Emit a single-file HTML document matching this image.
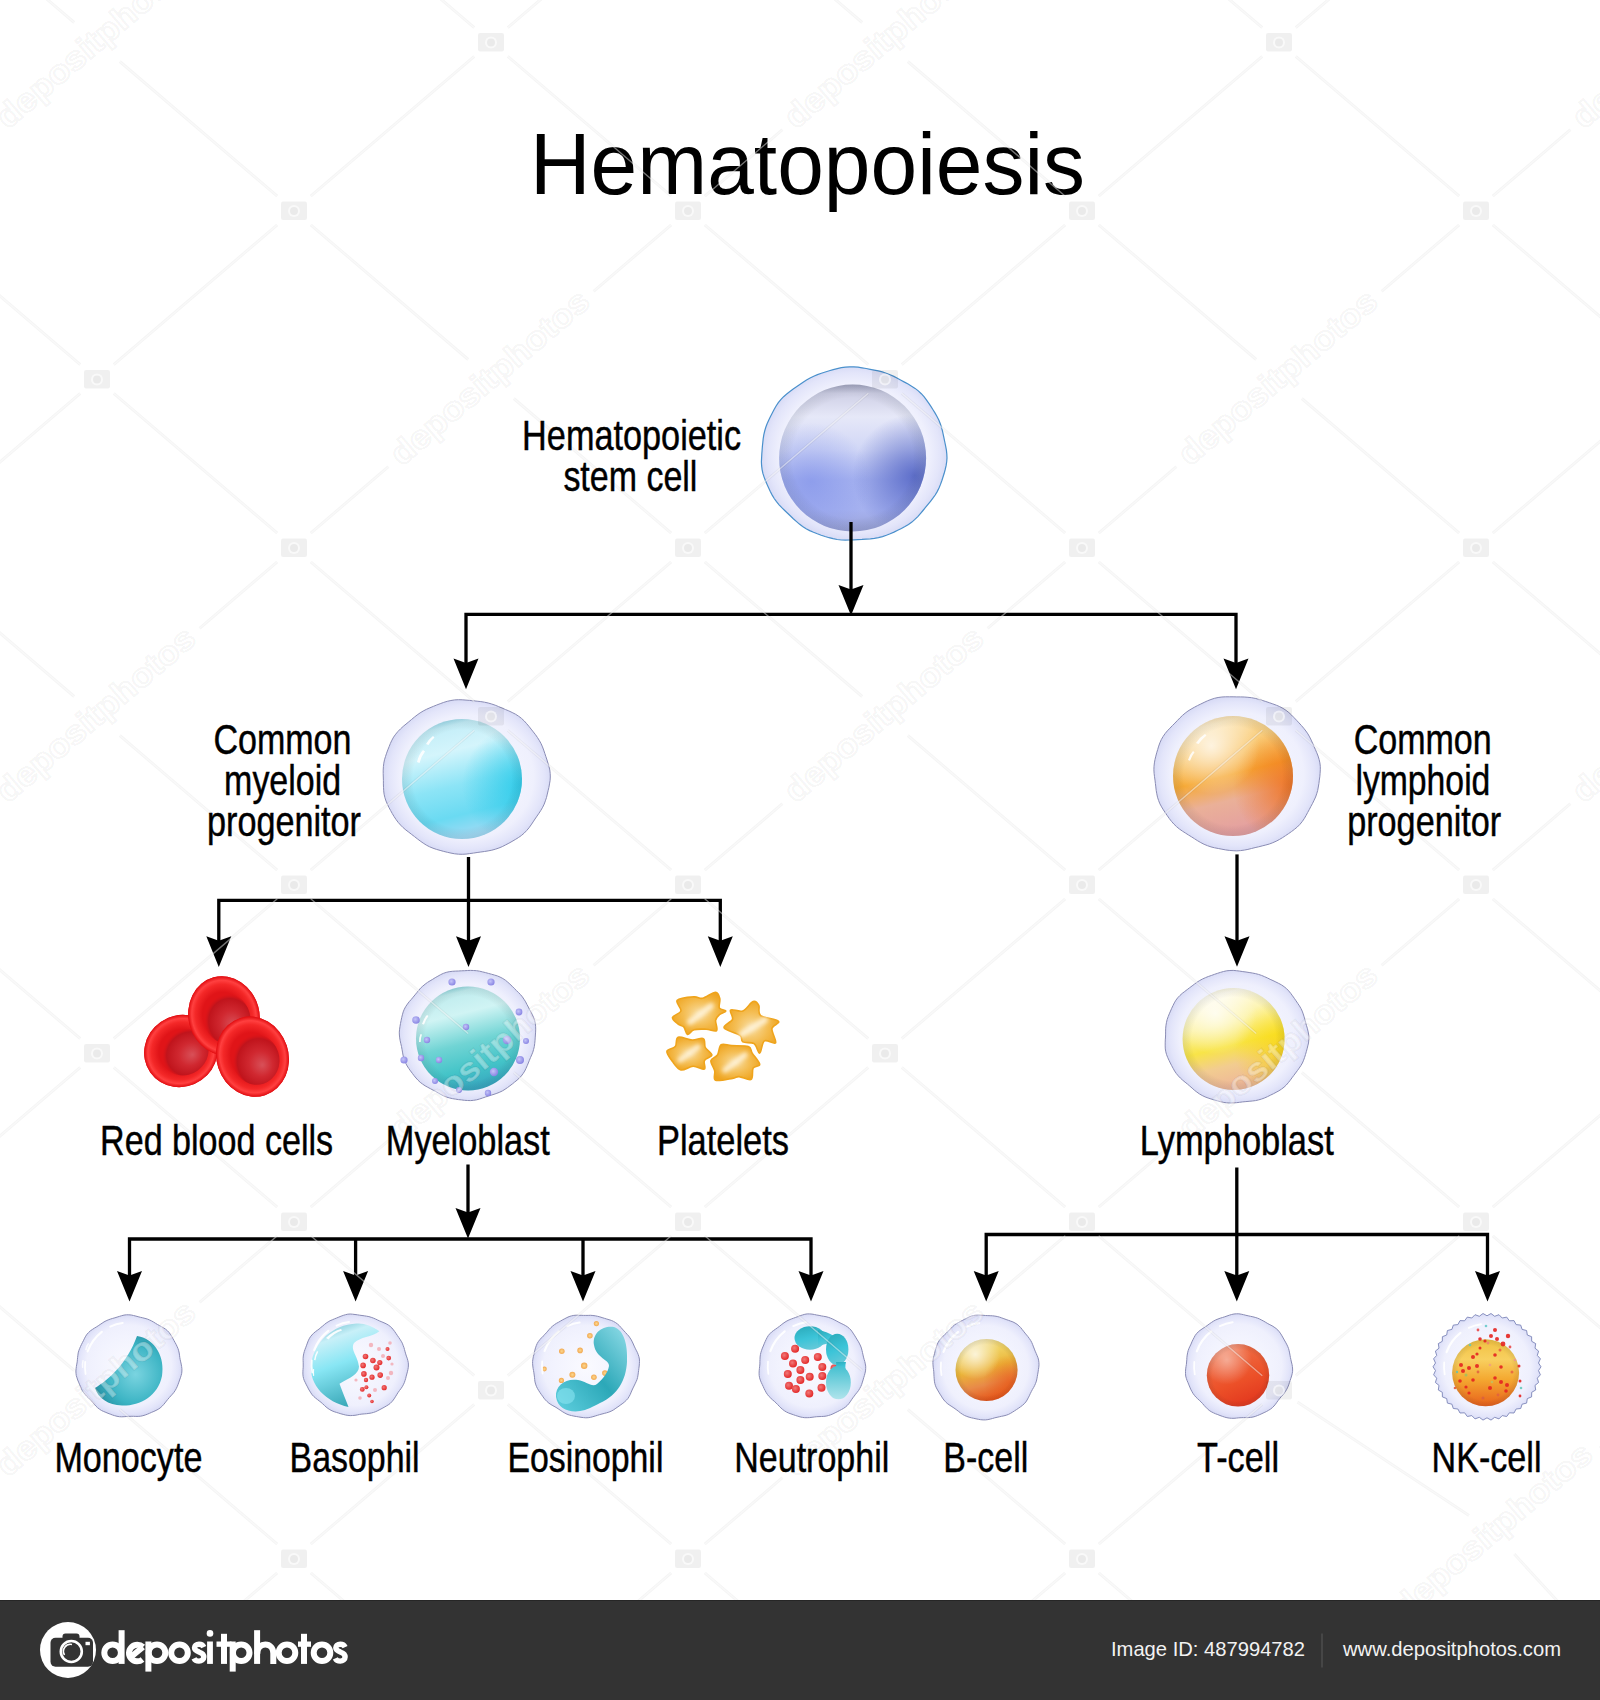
<!DOCTYPE html>
<html><head><meta charset="utf-8">
<style>
html,body{margin:0;padding:0;background:#fff;width:1600px;height:1700px;overflow:hidden}
svg text{font-family:"Liberation Sans",sans-serif}
</style></head><body>
<svg width="1600" height="1600" viewBox="0 0 1600 1600" style="position:absolute;left:0;top:0">

<defs>
  <radialGradient id="mem" cx="50%" cy="50%" r="50%">
    <stop offset="0" stop-color="#fafaff"/>
    <stop offset="0.6" stop-color="#f2f3fe"/>
    <stop offset="0.8" stop-color="#eff0fd"/>
    <stop offset="0.93" stop-color="#e3e5fa"/>
    <stop offset="1" stop-color="#d9dcf6"/>
  </radialGradient>
  <radialGradient id="rim" cx="50%" cy="50%" r="50%">
    <stop offset="0.82" stop-color="#000" stop-opacity="0"/>
    <stop offset="1" stop-color="#203040" stop-opacity="0.10"/>
  </radialGradient>
  <linearGradient id="nStem" x1="0" y1="0" x2="0" y2="1">
    <stop offset="0" stop-color="#a4a6c0"/>
    <stop offset="0.06" stop-color="#cfd0e6"/>
    <stop offset="0.22" stop-color="#e6e8f8"/>
    <stop offset="0.45" stop-color="#d0d6f6"/>
    <stop offset="0.65" stop-color="#a8b4f0"/>
    <stop offset="0.85" stop-color="#a6b2f0"/>
    <stop offset="1" stop-color="#9aa2d8"/>
  </linearGradient>
  <radialGradient id="stemR" cx="92%" cy="62%" r="42%">
    <stop offset="0" stop-color="#4a5cc0" stop-opacity="0.8"/>
    <stop offset="1" stop-color="#4a5cc0" stop-opacity="0"/>
  </radialGradient>
  <radialGradient id="stemL" cx="22%" cy="66%" r="40%">
    <stop offset="0" stop-color="#7a8ce8" stop-opacity="0.55"/>
    <stop offset="1" stop-color="#7a8ce8" stop-opacity="0"/>
  </radialGradient>
  <linearGradient id="nCyan" x1="0.2" y1="0" x2="0.45" y2="1">
    <stop offset="0" stop-color="#78cce0"/>
    <stop offset="0.1" stop-color="#c4eef8"/>
    <stop offset="0.3" stop-color="#d4f5fc"/>
    <stop offset="0.58" stop-color="#8ce4f6"/>
    <stop offset="0.82" stop-color="#6adaf2"/>
    <stop offset="1" stop-color="#a0daf4"/>
  </linearGradient>
  <radialGradient id="cyanR" cx="100%" cy="55%" r="50%">
    <stop offset="0" stop-color="#20c8e8" stop-opacity="0.8"/>
    <stop offset="1" stop-color="#20c8e8" stop-opacity="0"/>
  </radialGradient>
  <linearGradient id="nOrange" x1="0.1" y1="0" x2="0.35" y2="1">
    <stop offset="0" stop-color="#f6c878"/>
    <stop offset="0.12" stop-color="#fbe0a8"/>
    <stop offset="0.35" stop-color="#f9c870"/>
    <stop offset="0.55" stop-color="#f6aa38"/>
    <stop offset="0.75" stop-color="#eab098"/>
    <stop offset="1" stop-color="#e4a0a0"/>
  </linearGradient>
  <radialGradient id="orangeR" cx="100%" cy="58%" r="50%">
    <stop offset="0" stop-color="#f06a10" stop-opacity="0.85"/>
    <stop offset="1" stop-color="#f06a10" stop-opacity="0"/>
  </radialGradient>
  <radialGradient id="hiL" cx="32%" cy="25%" r="40%">
    <stop offset="0" stop-color="#ffffff" stop-opacity="0.75"/>
    <stop offset="1" stop-color="#ffffff" stop-opacity="0"/>
  </radialGradient>
  <linearGradient id="nYellow" x1="0.1" y1="0" x2="0.35" y2="1">
    <stop offset="0" stop-color="#f4eab0"/>
    <stop offset="0.12" stop-color="#fffbe8"/>
    <stop offset="0.4" stop-color="#fcf2a0"/>
    <stop offset="0.62" stop-color="#f8e448"/>
    <stop offset="0.8" stop-color="#f2cc90"/>
    <stop offset="1" stop-color="#eeb898"/>
  </linearGradient>
  <radialGradient id="yellowR" cx="100%" cy="60%" r="50%">
    <stop offset="0" stop-color="#fad800" stop-opacity="0.8"/>
    <stop offset="1" stop-color="#fad800" stop-opacity="0"/>
  </radialGradient>
  <linearGradient id="nTeal" x1="0.2" y1="0" x2="0.45" y2="1">
    <stop offset="0" stop-color="#60c4cc"/>
    <stop offset="0.1" stop-color="#c0ecee"/>
    <stop offset="0.3" stop-color="#d0f4f4"/>
    <stop offset="0.58" stop-color="#70d4d4"/>
    <stop offset="0.82" stop-color="#44c4c8"/>
    <stop offset="1" stop-color="#38a8c0"/>
  </linearGradient>
  <linearGradient id="nBcell" x1="0.25" y1="0" x2="0.5" y2="1">
    <stop offset="0" stop-color="#f0e0a0"/>
    <stop offset="0.25" stop-color="#f0d060"/>
    <stop offset="0.5" stop-color="#ebb438"/>
    <stop offset="0.75" stop-color="#e88a48"/>
    <stop offset="1" stop-color="#e65418"/>
  </linearGradient>
  <radialGradient id="bR" cx="90%" cy="70%" r="45%">
    <stop offset="0" stop-color="#e85010" stop-opacity="0.6"/>
    <stop offset="1" stop-color="#e85010" stop-opacity="0"/>
  </radialGradient>
  <linearGradient id="nTcell" x1="0" y1="0" x2="0.4" y2="1">
    <stop offset="0" stop-color="#f29a80"/>
    <stop offset="0.3" stop-color="#ee6840"/>
    <stop offset="0.7" stop-color="#ec5028"/>
    <stop offset="1" stop-color="#e43c20"/>
  </linearGradient>
  <linearGradient id="nNK" x1="0" y1="0" x2="0" y2="1">
    <stop offset="0" stop-color="#f0c040"/>
    <stop offset="0.3" stop-color="#f8d060"/>
    <stop offset="0.6" stop-color="#f4a830"/>
    <stop offset="1" stop-color="#e8601c"/>
  </linearGradient>
  <radialGradient id="mono" cx="60%" cy="55%" r="60%">
    <stop offset="0" stop-color="#7ad4e0"/>
    <stop offset="0.7" stop-color="#3cb4c4"/>
    <stop offset="1" stop-color="#2a96a8"/>
  </radialGradient>
  <linearGradient id="baso" x1="0.2" y1="0" x2="0.5" y2="1">
    <stop offset="0" stop-color="#70c0d0"/>
    <stop offset="0.2" stop-color="#c8f0f8"/>
    <stop offset="0.5" stop-color="#88e6f4"/>
    <stop offset="1" stop-color="#3aa8b8"/>
  </linearGradient>
  <linearGradient id="eos" x1="0" y1="1" x2="1" y2="0">
    <stop offset="0" stop-color="#60d0e0"/>
    <stop offset="0.5" stop-color="#2ca8b8"/>
    <stop offset="1" stop-color="#90dce8"/>
  </linearGradient>
  <linearGradient id="neut" x1="0" y1="0" x2="0.3" y2="1">
    <stop offset="0" stop-color="#2aa8b8"/>
    <stop offset="0.6" stop-color="#3cc4d8"/>
    <stop offset="1" stop-color="#60c8d8"/>
  </linearGradient>
  <linearGradient id="neut2" x1="0" y1="0" x2="0" y2="1">
    <stop offset="0" stop-color="#44c0d0"/>
    <stop offset="1" stop-color="#b0e4ec"/>
  </linearGradient>
  <radialGradient id="rbc" cx="50%" cy="50%" r="50%">
    <stop offset="0.6" stop-color="#e01418"/>
    <stop offset="0.8" stop-color="#f42828"/>
    <stop offset="0.9" stop-color="#ff4040"/>
    <stop offset="1" stop-color="#e00c10"/>
  </radialGradient>
  <radialGradient id="rbcIn" cx="55%" cy="58%" r="55%" fx="60%" fy="65%">
    <stop offset="0" stop-color="#d85058"/>
    <stop offset="0.45" stop-color="#d02830"/>
    <stop offset="0.85" stop-color="#c0141c"/>
    <stop offset="1" stop-color="#d81418" stop-opacity="0"/>
  </radialGradient>
  <radialGradient id="plt" cx="50%" cy="50%" r="55%">
    <stop offset="0" stop-color="#f8dca0"/>
    <stop offset="0.55" stop-color="#f4bc50"/>
    <stop offset="1" stop-color="#eea420"/>
  </radialGradient>
  <radialGradient id="rdot" cx="40%" cy="40%" r="60%">
    <stop offset="0" stop-color="#f07878"/>
    <stop offset="1" stop-color="#e42a2a"/>
  </radialGradient>
  <radialGradient id="pdot" cx="40%" cy="40%" r="60%">
    <stop offset="0" stop-color="#c4c4f8"/>
    <stop offset="1" stop-color="#8a86e4"/>
  </radialGradient>
  <radialGradient id="odot" cx="50%" cy="50%" r="50%">
    <stop offset="0" stop-color="#fbd890"/>
    <stop offset="1" stop-color="#f2a850"/>
  </radialGradient>
  <filter id="blur2" x="-50%" y="-50%" width="200%" height="200%"><feGaussianBlur stdDeviation="2.2"/></filter>
  <filter id="blur1" x="-50%" y="-50%" width="200%" height="200%"><feGaussianBlur stdDeviation="1.2"/></filter>
  <path id="ah" d="M0 1.6 L-12.5 -29 L0 -24.5 L12.5 -29 Z" fill="#000"/>
</defs>

<text x="807.5" y="193.5" font-size="88" text-anchor="middle" textLength="555" lengthAdjust="spacingAndGlyphs">Hematopoiesis</text>
<g stroke="#000" stroke-width="3.3" fill="none"><path d="M466 670 V614.4 H1236 V670"/><path d="M468.5 857 V950 M218.8 950 V900.3 H720.3 V950"/><path d="M1237 854.4 V950"/><path d="M468 1164.5 V1225 M129.5 1285 V1239 H811 V1285 M355.6 1239 V1285 M583 1239 V1285"/><path d="M1236.8 1167.5 V1285 M986.2 1285 V1234.5 H1487.5 V1285"/></g>
<use href="#ah" x="466" y="687.6"/>
<use href="#ah" x="1236" y="687.6"/>
<use href="#ah" x="218.8" y="965.3"/>
<use href="#ah" x="468.5" y="965.3"/>
<use href="#ah" x="720.3" y="965.3"/>
<use href="#ah" x="1237" y="965.2"/>
<use href="#ah" x="468" y="1237"/>
<use href="#ah" x="129.5" y="1300"/>
<use href="#ah" x="355.6" y="1300"/>
<use href="#ah" x="583" y="1300"/>
<use href="#ah" x="811" y="1300"/>
<use href="#ah" x="986.2" y="1300"/>
<use href="#ah" x="1236.8" y="1300"/>
<use href="#ah" x="1487.5" y="1300"/>
<path d="M946.8 454.0 L947.0 457.9 L946.7 461.8 L946.1 465.7 L945.2 469.5 L944.2 473.3 L943.0 477.0 L941.8 480.7 L940.5 484.4 L939.0 488.0 L937.2 491.6 L935.2 495.0 L932.9 498.2 L930.5 501.3 L928.0 504.4 L925.5 507.4 L923.0 510.5 L920.4 513.6 L917.8 516.6 L914.9 519.4 L911.9 522.1 L908.5 524.5 L905.0 526.6 L901.4 528.5 L897.7 530.3 L894.0 532.1 L890.2 533.7 L886.4 535.2 L882.5 536.6 L878.5 537.6 L874.4 538.3 L870.3 538.8 L866.1 539.1 L862.0 539.4 L857.9 539.6 L853.8 539.8 L849.7 540.0 L845.5 540.1 L841.3 540.0 L837.2 539.5 L833.1 538.7 L829.1 537.7 L825.1 536.5 L821.2 535.2 L817.3 533.8 L813.5 532.3 L809.7 530.6 L806.1 528.7 L802.6 526.5 L799.4 524.1 L796.3 521.4 L793.3 518.7 L790.5 516.0 L787.6 513.2 L784.7 510.5 L781.8 507.7 L779.1 504.8 L776.5 501.7 L774.2 498.5 L772.2 495.1 L770.3 491.6 L768.7 488.0 L767.1 484.4 L765.5 480.8 L764.1 477.1 L762.9 473.4 L762.1 469.6 L761.6 465.7 L761.4 461.8 L761.6 457.9 L761.8 454.0 L762.1 450.2 L762.4 446.3 L762.8 442.5 L763.2 438.6 L763.8 434.8 L764.7 431.0 L765.8 427.3 L767.2 423.6 L768.8 420.0 L770.5 416.5 L772.3 413.0 L774.1 409.5 L776.1 406.0 L778.3 402.7 L780.8 399.6 L783.6 396.7 L786.7 394.0 L789.9 391.5 L793.2 389.1 L796.5 386.8 L799.8 384.5 L803.1 382.2 L806.5 380.0 L810.1 378.0 L813.7 376.2 L817.5 374.6 L821.4 373.3 L825.3 372.0 L829.3 370.8 L833.2 369.7 L837.2 368.6 L841.3 367.7 L845.4 367.1 L849.6 366.8 L853.8 366.8 L858.0 367.2 L862.1 367.8 L866.2 368.5 L870.2 369.3 L874.3 370.1 L878.3 370.9 L882.3 371.9 L886.2 373.2 L890.1 374.7 L893.8 376.4 L897.4 378.3 L901.0 380.2 L904.5 382.1 L908.1 384.1 L911.6 386.2 L915.1 388.4 L918.3 390.9 L921.3 393.7 L924.0 396.7 L926.4 399.8 L928.7 403.1 L930.9 406.4 L933.0 409.7 L935.1 413.1 L937.0 416.5 L938.8 420.0 L940.3 423.7 L941.5 427.4 L942.5 431.1 L943.3 434.9 L944.1 438.7 L944.9 442.5 L945.7 446.3 L946.4 450.1 Z" fill="url(#mem)" stroke="#4a90cc" stroke-width="1.2"/>
<circle cx="852.6" cy="458" r="73.5" fill="url(#nStem)"/>
<circle cx="852.6" cy="458" r="73.5" fill="url(#stemL)"/>
<circle cx="852.6" cy="458" r="73.5" fill="url(#stemR)"/>
<circle cx="852.6" cy="458" r="73.5" fill="url(#rim)"/>
<path d="M851 522 V600" stroke="#000" stroke-width="3.3"/>
<use href="#ah" x="851" y="614"/>
<path d="M550.3 777.0 L550.1 780.5 L549.5 783.9 L548.9 787.4 L548.1 790.7 L547.3 794.1 L546.5 797.5 L545.4 800.8 L544.2 804.1 L542.7 807.2 L540.9 810.3 L539.0 813.2 L537.0 816.1 L535.0 819.0 L533.1 821.9 L531.1 824.9 L529.0 827.8 L526.7 830.5 L524.2 833.1 L521.4 835.5 L518.4 837.6 L515.3 839.5 L512.1 841.4 L508.9 843.2 L505.6 844.9 L502.3 846.6 L498.9 848.0 L495.4 849.2 L491.8 850.2 L488.1 850.9 L484.4 851.5 L480.8 852.0 L477.1 852.5 L473.4 853.1 L469.7 853.6 L466.0 854.1 L462.2 854.3 L458.5 854.2 L454.7 853.8 L451.0 853.1 L447.4 852.3 L443.7 851.4 L440.1 850.4 L436.5 849.4 L433.0 848.2 L429.6 846.8 L426.3 845.1 L423.2 843.1 L420.2 841.0 L417.3 838.8 L414.5 836.6 L411.6 834.4 L408.8 832.2 L405.9 830.0 L403.1 827.6 L400.6 825.1 L398.2 822.4 L396.1 819.6 L394.1 816.6 L392.3 813.6 L390.6 810.5 L388.9 807.4 L387.4 804.2 L386.0 801.0 L384.9 797.6 L384.1 794.2 L383.7 790.8 L383.5 787.3 L383.4 783.9 L383.4 780.4 L383.3 777.0 L383.2 773.6 L383.2 770.1 L383.4 766.7 L383.8 763.2 L384.5 759.8 L385.5 756.5 L386.6 753.2 L387.8 749.9 L389.1 746.7 L390.4 743.4 L391.9 740.2 L393.6 737.1 L395.7 734.2 L398.0 731.4 L400.5 728.9 L403.2 726.4 L406.0 724.1 L408.8 721.8 L411.5 719.5 L414.3 717.2 L417.1 715.0 L420.1 712.9 L423.2 711.0 L426.5 709.3 L429.9 707.8 L433.3 706.4 L436.7 705.0 L440.2 703.7 L443.7 702.4 L447.3 701.3 L450.9 700.5 L454.7 699.9 L458.5 699.7 L462.2 699.8 L466.0 700.1 L469.7 700.4 L473.4 700.8 L477.1 701.2 L480.8 701.6 L484.5 702.2 L488.2 703.0 L491.7 704.0 L495.2 705.2 L498.6 706.6 L502.0 708.0 L505.4 709.5 L508.8 710.9 L512.2 712.5 L515.5 714.2 L518.6 716.2 L521.5 718.4 L524.2 720.9 L526.6 723.6 L528.9 726.3 L531.1 729.1 L533.3 731.9 L535.5 734.7 L537.5 737.6 L539.4 740.6 L541.1 743.7 L542.5 746.9 L543.7 750.1 L544.8 753.4 L545.9 756.7 L547.0 760.0 L548.0 763.3 L549.0 766.6 L549.8 770.0 L550.2 773.5 Z" fill="url(#mem)" stroke="#8a8cb4" stroke-width="1.0"/>
<circle cx="462" cy="779" r="60" fill="url(#nCyan)"/><circle cx="462" cy="779" r="60" fill="url(#cyanR)"/><circle cx="462" cy="779" r="60" fill="url(#rim)"/>
<g fill="#fff" opacity="0.9"><path d="M417 762 q2 -8 6 -12 l2 1.5 q-4 5 -5.5 11.5z"/><path d="M426 744 q3 -5 7 -8 l1.5 1.5 q-3.5 3 -6 7.5z"/></g>
<path d="M1320.1 773.3 L1319.8 776.8 L1319.3 780.2 L1318.9 783.6 L1318.3 787.0 L1317.7 790.4 L1316.7 793.8 L1315.6 797.0 L1314.1 800.2 L1312.6 803.3 L1310.9 806.4 L1309.3 809.5 L1307.6 812.6 L1306.0 815.6 L1304.2 818.7 L1302.2 821.6 L1299.9 824.4 L1297.3 827.0 L1294.5 829.3 L1291.6 831.5 L1288.6 833.6 L1285.6 835.6 L1282.6 837.6 L1279.4 839.5 L1276.2 841.2 L1272.8 842.7 L1269.4 844.0 L1265.8 845.0 L1262.2 845.9 L1258.7 846.8 L1255.1 847.6 L1251.5 848.5 L1247.9 849.4 L1244.3 850.1 L1240.5 850.6 L1236.8 850.9 L1233.1 850.7 L1229.3 850.4 L1225.6 849.9 L1221.9 849.2 L1218.3 848.5 L1214.6 847.8 L1211.0 846.9 L1207.5 845.7 L1204.1 844.3 L1200.8 842.6 L1197.7 840.8 L1194.6 838.8 L1191.6 836.9 L1188.5 835.0 L1185.4 833.0 L1182.4 831.1 L1179.4 829.0 L1176.6 826.7 L1174.0 824.2 L1171.6 821.5 L1169.4 818.7 L1167.4 815.8 L1165.4 812.9 L1163.4 809.9 L1161.6 806.9 L1159.9 803.8 L1158.6 800.5 L1157.5 797.2 L1156.8 793.8 L1156.2 790.4 L1155.8 786.9 L1155.4 783.5 L1155.0 780.1 L1154.5 776.7 L1154.1 773.3 L1153.9 769.8 L1154.0 766.4 L1154.4 762.9 L1155.0 759.5 L1155.8 756.2 L1156.7 752.8 L1157.7 749.5 L1158.7 746.1 L1159.9 742.8 L1161.3 739.6 L1163.1 736.5 L1165.1 733.6 L1167.4 730.8 L1169.9 728.2 L1172.4 725.6 L1174.9 723.1 L1177.3 720.6 L1179.8 718.0 L1182.4 715.5 L1185.1 713.2 L1188.0 711.0 L1191.1 709.1 L1194.3 707.3 L1197.5 705.6 L1200.8 704.0 L1204.1 702.4 L1207.5 700.8 L1210.9 699.5 L1214.5 698.3 L1218.1 697.5 L1221.9 697.0 L1225.6 696.8 L1229.4 696.8 L1233.1 696.8 L1236.8 696.9 L1240.5 696.9 L1244.2 697.0 L1247.9 697.3 L1251.6 697.7 L1255.2 698.4 L1258.8 699.3 L1262.3 700.4 L1265.8 701.5 L1269.3 702.7 L1272.8 703.9 L1276.3 705.2 L1279.7 706.6 L1283.0 708.4 L1286.1 710.4 L1288.9 712.6 L1291.6 715.1 L1294.1 717.7 L1296.6 720.3 L1299.0 722.9 L1301.4 725.5 L1303.7 728.2 L1305.9 731.0 L1307.9 733.9 L1309.6 736.9 L1311.2 740.1 L1312.6 743.2 L1314.0 746.4 L1315.4 749.6 L1316.8 752.8 L1318.1 756.1 L1319.1 759.4 L1319.9 762.9 L1320.3 766.3 L1320.3 769.8 Z" fill="url(#mem)" stroke="#8a8cb4" stroke-width="1.0"/>
<circle cx="1233" cy="776" r="60" fill="url(#nOrange)"/><circle cx="1233" cy="776" r="60" fill="url(#orangeR)"/><circle cx="1233" cy="776" r="60" fill="url(#hiL)"/><circle cx="1233" cy="776" r="60" fill="url(#rim)"/>
<g fill="#fff" opacity="0.85"><path d="M1188 760 q2 -6 5 -9 l1.5 1.2 q-3 4 -4.5 8.5z"/><path d="M1196 743 q4 -6 9 -9 l1.5 1.5 q-4.5 3.5 -8 8.5z"/></g>
<path d="M1308.9 1037.0 L1308.8 1040.0 L1308.5 1043.0 L1307.8 1045.9 L1307.1 1048.8 L1306.3 1051.7 L1305.5 1054.5 L1304.6 1057.4 L1303.6 1060.2 L1302.4 1063.0 L1300.9 1065.6 L1299.2 1068.1 L1297.4 1070.6 L1295.6 1073.0 L1293.8 1075.4 L1292.0 1077.8 L1290.2 1080.3 L1288.3 1082.7 L1286.3 1085.0 L1284.0 1087.2 L1281.5 1089.1 L1278.9 1090.8 L1276.1 1092.3 L1273.3 1093.8 L1270.4 1095.2 L1267.6 1096.6 L1264.7 1097.9 L1261.7 1099.0 L1258.6 1099.9 L1255.5 1100.6 L1252.3 1101.0 L1249.1 1101.3 L1245.9 1101.6 L1242.7 1101.9 L1239.6 1102.3 L1236.4 1102.7 L1233.2 1102.9 L1229.9 1103.0 L1226.7 1102.8 L1223.5 1102.4 L1220.4 1101.7 L1217.3 1100.8 L1214.2 1099.9 L1211.1 1099.0 L1208.1 1098.0 L1205.1 1096.9 L1202.2 1095.5 L1199.4 1093.9 L1196.9 1092.1 L1194.4 1090.2 L1192.1 1088.1 L1189.8 1086.1 L1187.5 1084.1 L1185.1 1082.2 L1182.7 1080.2 L1180.4 1078.1 L1178.3 1075.9 L1176.3 1073.5 L1174.6 1071.0 L1173.1 1068.3 L1171.7 1065.7 L1170.3 1063.0 L1169.0 1060.3 L1167.7 1057.5 L1166.6 1054.7 L1165.8 1051.8 L1165.3 1048.9 L1165.2 1045.9 L1165.2 1042.9 L1165.3 1039.9 L1165.5 1037.0 L1165.6 1034.1 L1165.6 1031.1 L1165.7 1028.2 L1166.0 1025.2 L1166.5 1022.3 L1167.2 1019.4 L1168.2 1016.6 L1169.3 1013.8 L1170.5 1011.1 L1171.7 1008.3 L1173.0 1005.6 L1174.3 1002.9 L1175.9 1000.2 L1177.7 997.8 L1179.9 995.5 L1182.2 993.4 L1184.7 991.5 L1187.2 989.6 L1189.7 987.7 L1192.1 985.9 L1194.6 984.0 L1197.1 982.2 L1199.7 980.5 L1202.5 979.0 L1205.4 977.7 L1208.3 976.5 L1211.3 975.5 L1214.3 974.4 L1217.3 973.4 L1220.4 972.4 L1223.5 971.5 L1226.7 970.8 L1229.9 970.5 L1233.2 970.4 L1236.4 970.7 L1239.6 971.1 L1242.8 971.6 L1246.0 972.0 L1249.1 972.5 L1252.3 973.0 L1255.4 973.6 L1258.5 974.4 L1261.5 975.4 L1264.4 976.6 L1267.3 977.9 L1270.1 979.3 L1273.0 980.6 L1275.9 982.0 L1278.7 983.4 L1281.5 984.9 L1284.1 986.7 L1286.6 988.7 L1288.7 990.9 L1290.7 993.3 L1292.5 995.8 L1294.3 998.3 L1296.0 1000.8 L1297.7 1003.3 L1299.4 1005.8 L1300.9 1008.4 L1302.2 1011.1 L1303.2 1013.9 L1304.1 1016.8 L1304.9 1019.6 L1305.6 1022.5 L1306.4 1025.3 L1307.3 1028.2 L1308.0 1031.1 L1308.6 1034.0 Z" fill="url(#mem)" stroke="#8a8cb4" stroke-width="1.0"/>
<circle cx="1233.6" cy="1039" r="51" fill="url(#nYellow)"/><circle cx="1233.6" cy="1039" r="51" fill="url(#yellowR)"/><circle cx="1233.6" cy="1039" r="51" fill="url(#hiL)"/><circle cx="1233.6" cy="1039" r="51" fill="url(#rim)"/>
<path d="M535.4 1035.0 L535.2 1037.9 L535.0 1040.8 L534.7 1043.7 L534.3 1046.6 L533.6 1049.4 L532.8 1052.2 L531.7 1054.9 L530.5 1057.6 L529.4 1060.3 L528.3 1063.0 L527.2 1065.7 L526.0 1068.4 L524.7 1071.1 L523.1 1073.6 L521.3 1076.0 L519.2 1078.2 L517.0 1080.2 L514.6 1082.1 L512.3 1084.0 L509.9 1085.8 L507.5 1087.6 L505.0 1089.3 L502.4 1090.9 L499.7 1092.2 L496.9 1093.3 L494.0 1094.3 L491.1 1095.2 L488.3 1096.1 L485.4 1097.0 L482.6 1098.0 L479.6 1099.0 L476.7 1099.8 L473.7 1100.3 L470.6 1100.6 L467.5 1100.5 L464.4 1100.3 L461.4 1099.9 L458.4 1099.6 L455.3 1099.1 L452.3 1098.6 L449.3 1097.9 L446.4 1097.0 L443.6 1095.9 L440.9 1094.5 L438.3 1093.0 L435.7 1091.5 L433.1 1090.1 L430.4 1088.7 L427.8 1087.3 L425.1 1085.8 L422.6 1084.1 L420.2 1082.3 L418.0 1080.2 L416.0 1078.0 L414.1 1075.7 L412.3 1073.3 L410.5 1070.9 L408.8 1068.5 L407.2 1066.0 L405.8 1063.4 L404.6 1060.7 L403.7 1057.9 L403.0 1055.0 L402.5 1052.1 L402.0 1049.3 L401.5 1046.5 L400.8 1043.6 L400.2 1040.8 L399.7 1037.9 L399.4 1035.0 L399.3 1032.1 L399.6 1029.2 L400.0 1026.3 L400.5 1023.4 L401.1 1020.5 L401.7 1017.6 L402.4 1014.8 L403.2 1011.9 L404.3 1009.2 L405.7 1006.6 L407.4 1004.1 L409.2 1001.7 L411.2 999.5 L413.1 997.2 L415.0 994.9 L416.8 992.7 L418.7 990.4 L420.6 988.1 L422.8 986.1 L425.1 984.2 L427.5 982.4 L430.1 980.8 L432.7 979.3 L435.2 977.7 L437.9 976.2 L440.5 974.7 L443.3 973.4 L446.2 972.4 L449.2 971.7 L452.3 971.3 L455.4 971.1 L458.4 971.0 L461.5 970.8 L464.5 970.7 L467.5 970.5 L470.5 970.4 L473.6 970.5 L476.6 970.7 L479.6 971.2 L482.6 971.9 L485.5 972.6 L488.4 973.4 L491.4 974.2 L494.3 975.0 L497.3 975.9 L500.1 977.1 L502.8 978.5 L505.4 980.2 L507.7 982.1 L509.9 984.1 L512.1 986.2 L514.2 988.3 L516.3 990.4 L518.4 992.5 L520.5 994.6 L522.4 996.9 L524.0 999.3 L525.6 1001.8 L526.9 1004.4 L528.3 1007.0 L529.6 1009.6 L531.0 1012.2 L532.4 1014.8 L533.6 1017.6 L534.6 1020.4 L535.3 1023.2 L535.6 1026.2 L535.7 1029.1 L535.6 1032.1 Z" fill="url(#mem)" stroke="#8a8cb4" stroke-width="1.0"/>
<circle cx="468" cy="1038.5" r="52" fill="url(#nTeal)"/><circle cx="468" cy="1038.5" r="52" fill="url(#rim)"/>
<g fill="#fff" opacity="0.9"><path d="M422 1024 q2 -6 5 -9 l1.5 1 q-3 4 -4.5 8.5z"/><path d="M419 1042 q0 -5 1.5 -8 l1.5 0.5 q-1.3 3.5 -1.3 7.5z"/></g>
<circle cx="452" cy="982" r="3.6" fill="url(#pdot)"/>
<circle cx="491" cy="982" r="3.6" fill="url(#pdot)"/>
<circle cx="416" cy="1020" r="3.8" fill="url(#pdot)"/>
<circle cx="404" cy="1060" r="3.6" fill="url(#pdot)"/>
<circle cx="427" cy="1040" r="3.2" fill="url(#pdot)"/>
<circle cx="421" cy="1058" r="3.2" fill="url(#pdot)"/>
<circle cx="439" cy="1060" r="3.2" fill="url(#pdot)"/>
<circle cx="466" cy="1027" r="3.2" fill="url(#pdot)"/>
<circle cx="507" cy="1040" r="4.2" fill="url(#pdot)"/>
<circle cx="519" cy="1012" r="3.4" fill="url(#pdot)"/>
<circle cx="520" cy="1060" r="4.0" fill="url(#pdot)"/>
<circle cx="494" cy="1072" r="4.2" fill="url(#pdot)"/>
<circle cx="435" cy="1081" r="3.0" fill="url(#pdot)"/>
<circle cx="459" cy="1090" r="3.0" fill="url(#pdot)"/>
<circle cx="488" cy="1093" r="3.2" fill="url(#pdot)"/>
<circle cx="526" cy="1041" r="3.0" fill="url(#pdot)"/>
<g transform="rotate(-35 181 1051)"><ellipse cx="181" cy="1051" rx="37.5" ry="35.5" fill="#e81418"/><ellipse cx="181" cy="1051" rx="37.5" ry="35.5" fill="url(#rbc)"/><ellipse cx="183.25" cy="1053.84" rx="24.75" ry="22.72" fill="url(#rbcIn)"/></g>
<g transform="rotate(-15 224 1016)"><ellipse cx="224" cy="1016" rx="35.5" ry="40" fill="#e81418"/><ellipse cx="224" cy="1016" rx="35.5" ry="40" fill="url(#rbc)"/><ellipse cx="226.13" cy="1019.2" rx="23.43" ry="25.6" fill="url(#rbcIn)"/></g>
<g transform="rotate(-18 252.5 1056.7)"><ellipse cx="252.5" cy="1056.7" rx="36" ry="40.5" fill="#e81418"/><ellipse cx="252.5" cy="1056.7" rx="36" ry="40.5" fill="url(#rbc)"/><ellipse cx="254.66" cy="1059.94" rx="23.76" ry="25.92" fill="url(#rbcIn)"/></g>
<path d="M677.2 1000.2 C679.4 997.9 689.9 997.2 694.1 996.9 C698.3 996.6 698.9 999.1 702.5 998.3 C706.1 997.5 712.7 992.1 715.6 992.2 C718.5 992.3 719.2 996.1 719.8 998.7 C720.4 1001.4 718.4 1006.1 719.4 1008.1 C720.4 1010.1 725.9 1009.8 725.9 1010.9 C725.9 1012.0 721.1 1013.1 719.4 1014.7 C717.7 1016.3 716.1 1017.6 715.6 1020.3 C715.1 1022.9 718.2 1029.1 716.6 1030.6 C715.0 1032.1 710.0 1029.3 706.2 1029.2 C702.5 1029.1 697.2 1028.8 694.1 1029.7 C691.0 1030.6 689.2 1034.9 687.5 1034.4 C685.8 1033.9 685.4 1028.6 683.8 1026.9 C682.2 1025.2 680.0 1025.7 678.1 1024.1 C676.2 1022.5 672.0 1019.7 672.5 1017.5 C673.0 1015.3 680.1 1013.8 680.9 1010.9 C681.7 1008.0 675.0 1002.5 677.2 1000.2 Z" fill="url(#plt)" stroke="#efa41c" stroke-width="1.6" stroke-linejoin="round"/>
<path d="M730.6 1010.0 C732.3 1008.6 739.0 1012.3 742.8 1010.9 C746.5 1009.5 750.4 1002.5 753.1 1001.6 C755.8 1000.7 757.5 1003.0 758.8 1005.3 C760.0 1007.6 757.3 1013.0 760.6 1015.6 C763.9 1018.2 776.5 1019.0 778.4 1021.2 C780.3 1023.4 772.4 1025.1 771.9 1028.7 C771.4 1032.3 776.9 1040.8 775.6 1042.8 C774.4 1044.8 767.0 1039.2 764.4 1040.9 C761.8 1042.6 761.4 1052.6 759.7 1053.1 C758.0 1053.6 756.9 1045.6 754.1 1043.7 C751.3 1041.8 745.1 1043.3 742.8 1041.9 C740.4 1040.5 743.1 1037.7 740.0 1035.3 C736.9 1032.9 725.4 1030.5 724.1 1027.8 C722.9 1025.1 731.4 1022.4 732.5 1019.4 C733.6 1016.4 728.9 1011.4 730.6 1010.0 Z" fill="url(#plt)" stroke="#efa41c" stroke-width="1.6" stroke-linejoin="round"/>
<path d="M678.1 1037.2 C680.9 1036.1 688.0 1039.8 692.2 1040.0 C696.4 1040.2 701.2 1037.3 703.4 1038.6 C705.6 1039.8 703.9 1044.8 705.3 1047.5 C706.7 1050.2 712.0 1052.8 711.9 1055.0 C711.8 1057.2 705.6 1058.2 704.4 1060.6 C703.1 1062.9 706.3 1068.2 704.4 1069.1 C702.5 1070.0 697.0 1066.0 693.1 1066.2 C689.2 1066.4 684.3 1070.8 680.9 1070.0 C677.5 1069.2 674.8 1064.7 672.5 1061.6 C670.2 1058.5 666.4 1053.7 666.9 1051.2 C667.4 1048.7 673.4 1048.9 675.3 1046.6 C677.2 1044.3 675.3 1038.3 678.1 1037.2 Z" fill="url(#plt)" stroke="#efa41c" stroke-width="1.6" stroke-linejoin="round"/>
<path d="M721.2 1044.7 C723.6 1043.1 727.1 1045.3 731.6 1045.6 C736.1 1045.9 745.0 1045.3 748.4 1046.6 C751.8 1047.8 750.3 1050.1 752.2 1053.1 C754.1 1056.1 759.6 1061.9 759.7 1064.4 C759.9 1066.9 754.5 1065.6 753.1 1068.1 C751.7 1070.6 753.5 1078.0 751.2 1079.4 C748.9 1080.8 742.2 1076.8 739.1 1076.6 C736.0 1076.4 736.4 1077.8 732.5 1078.4 C728.6 1079.0 718.6 1081.5 715.6 1080.3 C712.6 1079.0 715.5 1074.2 714.7 1070.9 C713.9 1067.6 710.4 1063.2 710.9 1060.6 C711.4 1057.9 715.8 1057.7 717.5 1055.0 C719.2 1052.3 718.9 1046.3 721.2 1044.7 Z" fill="url(#plt)" stroke="#efa41c" stroke-width="1.6" stroke-linejoin="round"/>
<g stroke="#fff4dc" stroke-linecap="round" fill="none" opacity="0.9" filter="url(#blur2)"><path d="M690 1022 L711 1006" stroke-width="6"/><path d="M742 1034 L765 1020" stroke-width="6.5"/><path d="M680 1060 L698 1047" stroke-width="5.5"/><path d="M725 1070 L745 1055" stroke-width="5.5"/></g>
<path d="M181.6 1366.4 L181.9 1368.7 L181.9 1371.0 L181.7 1373.3 L181.1 1375.6 L180.4 1377.8 L179.6 1380.0 L178.9 1382.1 L178.1 1384.3 L177.3 1386.4 L176.3 1388.5 L175.2 1390.5 L173.9 1392.4 L172.4 1394.2 L170.8 1395.9 L169.3 1397.6 L167.8 1399.3 L166.4 1401.1 L165.0 1402.9 L163.5 1404.7 L161.9 1406.4 L160.1 1408.0 L158.1 1409.3 L156.0 1410.4 L153.9 1411.4 L151.7 1412.3 L149.5 1413.3 L147.4 1414.2 L145.2 1415.0 L142.9 1415.7 L140.6 1416.2 L138.2 1416.4 L135.8 1416.4 L133.5 1416.3 L131.1 1416.3 L128.8 1416.4 L126.5 1416.5 L124.1 1416.7 L121.7 1416.8 L119.4 1416.7 L117.0 1416.3 L114.7 1415.7 L112.5 1415.0 L110.2 1414.1 L108.0 1413.3 L105.9 1412.4 L103.7 1411.5 L101.5 1410.5 L99.5 1409.2 L97.7 1407.8 L96.0 1406.2 L94.4 1404.4 L92.9 1402.7 L91.4 1400.9 L89.8 1399.3 L88.2 1397.7 L86.5 1396.1 L85.0 1394.3 L83.5 1392.5 L82.3 1390.6 L81.3 1388.5 L80.4 1386.4 L79.5 1384.3 L78.6 1382.1 L77.7 1380.0 L77.0 1377.8 L76.3 1375.6 L76.0 1373.3 L75.9 1371.0 L76.1 1368.7 L76.4 1366.4 L76.8 1364.1 L77.2 1361.9 L77.4 1359.7 L77.6 1357.4 L77.9 1355.2 L78.2 1352.9 L78.8 1350.7 L79.6 1348.6 L80.5 1346.5 L81.5 1344.4 L82.5 1342.4 L83.6 1340.3 L84.6 1338.2 L85.7 1336.2 L87.0 1334.2 L88.6 1332.5 L90.3 1330.9 L92.3 1329.5 L94.3 1328.2 L96.3 1327.0 L98.2 1325.8 L100.1 1324.5 L102.1 1323.2 L104.0 1321.9 L106.1 1320.8 L108.2 1319.9 L110.4 1319.1 L112.7 1318.4 L114.9 1317.8 L117.1 1317.1 L119.4 1316.4 L121.7 1315.7 L124.0 1315.1 L126.4 1314.8 L128.8 1314.8 L131.2 1315.0 L133.5 1315.5 L135.9 1316.1 L138.1 1316.7 L140.4 1317.3 L142.7 1317.8 L145.0 1318.4 L147.2 1319.0 L149.4 1319.9 L151.5 1320.9 L153.5 1322.0 L155.5 1323.3 L157.5 1324.5 L159.5 1325.6 L161.5 1326.7 L163.6 1327.9 L165.6 1329.2 L167.4 1330.7 L169.0 1332.4 L170.4 1334.3 L171.6 1336.3 L172.8 1338.4 L173.9 1340.4 L175.0 1342.4 L176.1 1344.4 L177.1 1346.5 L178.0 1348.6 L178.7 1350.8 L179.2 1353.0 L179.5 1355.2 L179.8 1357.5 L180.2 1359.7 L180.7 1361.9 L181.2 1364.1 Z" fill="url(#mem)" stroke="#8a8cb4" stroke-width="1.0"/>
<path d="M95 1388 C108 1380 127 1364 137 1336 C156 1339 165 1358 162 1376 C158 1396 140 1406 122 1405.6 C108 1405 98 1398 95 1388 Z" fill="url(#mono)"/>
<g fill="#fff" opacity="0.8"><path d="M85 1350 q1 -5 3 -7 l1.2 0.6 q-1.8 3 -2.6 6.6z"/><path d="M82 1368 q-0.5 -5 0.5 -8 l1.3 0.2 q-0.8 3.5 -0.5 7.6z"/></g>
<path d="M408.4 1365.0 L408.3 1367.3 L407.9 1369.6 L407.4 1371.8 L406.8 1374.0 L406.2 1376.2 L405.7 1378.4 L405.0 1380.6 L404.3 1382.7 L403.3 1384.8 L402.2 1386.8 L400.9 1388.7 L399.5 1390.5 L398.2 1392.3 L397.0 1394.2 L395.8 1396.2 L394.6 1398.1 L393.3 1400.0 L391.8 1401.8 L390.1 1403.5 L388.2 1404.9 L386.2 1406.1 L384.1 1407.3 L382.1 1408.4 L380.0 1409.5 L377.9 1410.6 L375.8 1411.6 L373.6 1412.4 L371.3 1413.0 L368.9 1413.4 L366.6 1413.7 L364.3 1413.9 L361.9 1414.1 L359.6 1414.4 L357.3 1414.9 L355.0 1415.3 L352.6 1415.5 L350.2 1415.6 L347.9 1415.4 L345.5 1415.0 L343.2 1414.4 L340.9 1413.8 L338.7 1413.1 L336.4 1412.4 L334.2 1411.7 L332.0 1410.8 L329.9 1409.7 L327.9 1408.4 L326.1 1407.0 L324.4 1405.4 L322.7 1403.8 L321.0 1402.3 L319.2 1400.9 L317.4 1399.5 L315.5 1398.0 L313.8 1396.5 L312.2 1394.8 L310.9 1392.9 L309.7 1391.0 L308.5 1389.0 L307.5 1386.9 L306.4 1384.9 L305.4 1382.8 L304.4 1380.8 L303.6 1378.6 L303.1 1376.3 L302.9 1374.1 L302.9 1371.8 L303.0 1369.5 L303.2 1367.2 L303.2 1365.0 L303.2 1362.8 L303.1 1360.5 L303.1 1358.3 L303.3 1356.0 L303.7 1353.8 L304.3 1351.6 L305.0 1349.4 L305.8 1347.3 L306.6 1345.2 L307.4 1343.0 L308.2 1340.9 L309.2 1338.8 L310.4 1336.8 L311.9 1335.0 L313.5 1333.3 L315.3 1331.8 L317.2 1330.4 L319.1 1329.0 L320.8 1327.5 L322.6 1326.1 L324.3 1324.6 L326.2 1323.1 L328.1 1321.9 L330.1 1320.7 L332.3 1319.8 L334.4 1318.9 L336.6 1318.0 L338.8 1317.1 L341.0 1316.2 L343.2 1315.4 L345.5 1314.7 L347.8 1314.2 L350.2 1314.0 L352.6 1314.2 L355.0 1314.5 L357.4 1314.8 L359.7 1315.2 L362.0 1315.5 L364.3 1315.8 L366.6 1316.2 L368.9 1316.6 L371.2 1317.3 L373.4 1318.1 L375.5 1319.0 L377.6 1320.0 L379.7 1321.0 L381.9 1321.9 L384.0 1322.8 L386.2 1323.8 L388.3 1325.0 L390.2 1326.4 L391.9 1328.0 L393.4 1329.8 L394.8 1331.7 L396.1 1333.6 L397.4 1335.5 L398.7 1337.4 L400.0 1339.3 L401.2 1341.2 L402.3 1343.2 L403.1 1345.3 L403.9 1347.4 L404.5 1349.6 L405.1 1351.8 L405.7 1353.9 L406.4 1356.1 L407.2 1358.2 L407.8 1360.4 L408.3 1362.7 Z" fill="url(#mem)" stroke="#8a8cb4" stroke-width="1.0"/>
<path d="M379.4 1331.3 C372 1326 364 1323 356.6 1323.6 C332 1325 314 1342 311 1365 C309 1385 326 1402 348.5 1407 C346 1400 342.8 1393 339.5 1383.7 C350 1378 359 1374 359 1366.6 C358 1356 350 1350 354 1343 C360 1337 372 1337 379.4 1331.3 Z" fill="url(#baso)"/>
<path d="M326 1338 q7 -7 15 -9 l1 1.6 q-8 2.6 -13.5 9z" fill="#fff" opacity="0.9"/><path d="M314 1360 q1 -6 3 -9 l1.3 0.7 q-2 3.5 -2.8 8.5z" fill="#fff" opacity="0.9"/><path d="M313 1376 q-0.5 -4 0 -7 l1.2 0.2 q-0.4 3 0 6.6z" fill="#fff" opacity="0.9"/>
<circle cx="365.5" cy="1356.5" r="2.8" fill="url(#rdot)"/>
<circle cx="372.9" cy="1360.5" r="2.8" fill="url(#rdot)"/>
<circle cx="379.8" cy="1362.6" r="2.6" fill="url(#rdot)"/>
<circle cx="363.1" cy="1365.4" r="2.8" fill="url(#rdot)"/>
<circle cx="376.5" cy="1367.4" r="3.0" fill="url(#rdot)"/>
<circle cx="363.9" cy="1373.9" r="2.8" fill="url(#rdot)"/>
<circle cx="372" cy="1377.2" r="2.6" fill="url(#rdot)"/>
<circle cx="380.2" cy="1375.1" r="2.8" fill="url(#rdot)"/>
<circle cx="366" cy="1380" r="2.2" fill="url(#rdot)"/>
<circle cx="384.2" cy="1387.7" r="2.6" fill="url(#rdot)"/>
<circle cx="362.3" cy="1389.4" r="2.4" fill="url(#rdot)"/>
<circle cx="388.7" cy="1358.1" r="2.4" fill="url(#rdot)"/>
<circle cx="387.5" cy="1349.1" r="2.0" fill="url(#rdot)"/>
<circle cx="369.2" cy="1395.4" r="2.0" fill="url(#rdot)"/>
<circle cx="372" cy="1401.5" r="1.8" fill="url(#rdot)"/>
<circle cx="366.4" cy="1387.3" r="2.0" fill="url(#rdot)"/>
<circle cx="371" cy="1345" r="2.2" fill="#f2a8b0" opacity="0.8"/>
<circle cx="379" cy="1349" r="2.0" fill="#f2a8b0" opacity="0.8"/>
<circle cx="390" cy="1343" r="1.8" fill="#f2a8b0" opacity="0.8"/>
<circle cx="383" cy="1356" r="2.0" fill="#f2a8b0" opacity="0.8"/>
<circle cx="391" cy="1373" r="2.2" fill="#f2a8b0" opacity="0.8"/>
<circle cx="388" cy="1378" r="2.0" fill="#f2a8b0" opacity="0.8"/>
<circle cx="375" cy="1390" r="2.0" fill="#f2a8b0" opacity="0.8"/>
<circle cx="360" cy="1398" r="1.8" fill="#f2a8b0" opacity="0.8"/>
<circle cx="356" cy="1380" r="1.6" fill="#f2a8b0" opacity="0.8"/>
<circle cx="392" cy="1364" r="1.6" fill="#f2a8b0" opacity="0.8"/>
<path d="M639.2 1366.0 L638.9 1368.3 L638.6 1370.6 L638.3 1372.8 L638.0 1375.1 L637.6 1377.4 L637.0 1379.6 L636.1 1381.7 L635.1 1383.8 L634.1 1385.9 L633.1 1387.9 L632.1 1390.0 L631.2 1392.1 L630.3 1394.3 L629.2 1396.4 L628.0 1398.4 L626.4 1400.2 L624.7 1401.8 L622.9 1403.3 L620.9 1404.7 L619.0 1406.1 L617.1 1407.4 L615.1 1408.8 L613.2 1410.1 L611.1 1411.2 L608.9 1412.1 L606.6 1412.8 L604.3 1413.4 L602.0 1414.0 L599.7 1414.6 L597.5 1415.3 L595.2 1416.0 L592.9 1416.7 L590.6 1417.3 L588.2 1417.7 L585.8 1417.8 L583.4 1417.6 L581.0 1417.3 L578.6 1416.9 L576.3 1416.5 L573.9 1416.1 L571.6 1415.6 L569.2 1415.0 L567.0 1414.2 L564.9 1413.1 L562.8 1411.9 L560.9 1410.6 L558.9 1409.3 L557.0 1408.0 L555.0 1406.8 L552.9 1405.7 L550.9 1404.5 L548.9 1403.2 L547.1 1401.6 L545.4 1399.9 L543.9 1398.1 L542.6 1396.2 L541.2 1394.3 L539.9 1392.4 L538.6 1390.4 L537.4 1388.4 L536.4 1386.3 L535.6 1384.1 L535.0 1381.9 L534.7 1379.6 L534.5 1377.3 L534.2 1375.0 L533.9 1372.8 L533.5 1370.5 L533.1 1368.3 L532.8 1366.0 L532.6 1363.7 L532.6 1361.4 L532.9 1359.1 L533.3 1356.8 L533.9 1354.6 L534.4 1352.3 L534.9 1350.1 L535.5 1347.8 L536.3 1345.6 L537.2 1343.5 L538.4 1341.5 L539.9 1339.6 L541.5 1337.8 L543.1 1336.2 L544.8 1334.5 L546.3 1332.8 L547.8 1331.1 L549.3 1329.3 L550.9 1327.6 L552.7 1326.0 L554.5 1324.6 L556.5 1323.3 L558.6 1322.2 L560.6 1321.0 L562.7 1319.8 L564.8 1318.7 L566.9 1317.6 L569.1 1316.6 L571.4 1315.9 L573.8 1315.4 L576.2 1315.2 L578.7 1315.3 L581.1 1315.3 L583.4 1315.4 L585.8 1315.4 L588.2 1315.4 L590.5 1315.3 L592.9 1315.5 L595.3 1315.8 L597.6 1316.3 L599.9 1316.9 L602.1 1317.6 L604.4 1318.3 L606.7 1319.0 L609.0 1319.7 L611.3 1320.4 L613.5 1321.4 L615.6 1322.6 L617.5 1324.0 L619.3 1325.6 L620.9 1327.4 L622.4 1329.1 L624.0 1330.9 L625.6 1332.6 L627.1 1334.3 L628.7 1336.0 L630.0 1337.9 L631.3 1339.9 L632.3 1341.9 L633.3 1344.0 L634.2 1346.1 L635.2 1348.2 L636.2 1350.2 L637.3 1352.3 L638.2 1354.5 L638.9 1356.7 L639.4 1359.0 L639.5 1361.3 L639.4 1363.7 Z" fill="url(#mem)" stroke="#8a8cb4" stroke-width="1.0"/>
<circle cx="596.4" cy="1323.6" r="2.6" fill="url(#odot)"/>
<circle cx="589.9" cy="1335.7" r="2.8" fill="url(#odot)"/>
<circle cx="561.8" cy="1351.2" r="2.8" fill="url(#odot)"/>
<circle cx="580.1" cy="1350.4" r="2.8" fill="url(#odot)"/>
<circle cx="606.5" cy="1352.8" r="2.8" fill="url(#odot)"/>
<circle cx="584.2" cy="1365.8" r="3.2" fill="url(#odot)"/>
<circle cx="544.4" cy="1369" r="2.4" fill="url(#odot)"/>
<circle cx="572.4" cy="1374.7" r="3.0" fill="url(#odot)"/>
<circle cx="593.9" cy="1377.2" r="2.8" fill="url(#odot)"/>
<circle cx="604.9" cy="1373.1" r="2.8" fill="url(#odot)"/>
<circle cx="561.4" cy="1380.4" r="2.6" fill="url(#odot)"/>
<path d="M594 1345 C592 1332 604 1325 614 1327 C624 1330 628 1345 627 1362 C626 1380 618 1395 600 1403 C592 1407 588 1409 585 1410 C572 1414 558 1410 556 1397 C555 1385 566 1378 578 1380 C586 1381 592 1388 597 1384 C604 1378 608 1372 609 1366 C610 1360 596 1358 594 1345 Z" fill="url(#eos)"/>
<ellipse cx="566" cy="1396" rx="9" ry="8" fill="#90e8f4" opacity="0.55"/>
<path d="M865.7 1366.2 L865.7 1368.6 L865.5 1370.9 L865.0 1373.2 L864.4 1375.5 L863.7 1377.7 L863.1 1379.9 L862.4 1382.1 L861.7 1384.4 L860.8 1386.5 L859.7 1388.6 L858.5 1390.6 L857.1 1392.4 L855.6 1394.2 L854.2 1396.1 L852.8 1397.9 L851.5 1399.8 L850.2 1401.8 L848.8 1403.7 L847.2 1405.5 L845.5 1407.0 L843.5 1408.4 L841.4 1409.6 L839.3 1410.7 L837.2 1411.8 L835.1 1412.8 L832.9 1413.9 L830.7 1414.8 L828.5 1415.5 L826.1 1416.1 L823.8 1416.4 L821.4 1416.5 L819.0 1416.6 L816.7 1416.7 L814.3 1417.0 L812.0 1417.3 L809.6 1417.6 L807.2 1417.7 L804.8 1417.7 L802.5 1417.4 L800.1 1416.9 L797.8 1416.2 L795.6 1415.5 L793.3 1414.7 L791.0 1413.9 L788.8 1413.1 L786.6 1412.1 L784.6 1410.9 L782.7 1409.5 L780.9 1407.9 L779.2 1406.2 L777.6 1404.5 L776.0 1402.9 L774.3 1401.3 L772.5 1399.8 L770.8 1398.2 L769.1 1396.5 L767.6 1394.7 L766.3 1392.8 L765.2 1390.7 L764.1 1388.6 L763.2 1386.5 L762.2 1384.4 L761.2 1382.3 L760.3 1380.1 L759.6 1377.8 L759.2 1375.5 L759.1 1373.2 L759.2 1370.8 L759.4 1368.5 L759.7 1366.2 L759.9 1363.9 L759.9 1361.6 L760.0 1359.3 L760.1 1357.0 L760.4 1354.7 L760.9 1352.5 L761.6 1350.3 L762.4 1348.1 L763.3 1346.0 L764.2 1343.8 L765.1 1341.7 L766.1 1339.5 L767.2 1337.4 L768.4 1335.4 L770.0 1333.6 L771.7 1331.9 L773.6 1330.5 L775.6 1329.1 L777.5 1327.7 L779.4 1326.4 L781.2 1324.9 L783.0 1323.5 L785.0 1322.1 L787.0 1320.9 L789.1 1319.9 L791.3 1319.0 L793.5 1318.2 L795.7 1317.4 L797.9 1316.6 L800.2 1315.7 L802.4 1315.0 L804.8 1314.3 L807.2 1313.9 L809.6 1313.9 L812.0 1314.1 L814.4 1314.5 L816.7 1315.0 L819.1 1315.4 L821.4 1315.9 L823.7 1316.3 L826.0 1316.7 L828.3 1317.3 L830.5 1318.1 L832.7 1319.0 L834.8 1320.1 L836.9 1321.2 L838.9 1322.3 L841.1 1323.4 L843.2 1324.4 L845.3 1325.5 L847.4 1326.8 L849.2 1328.3 L850.9 1330.0 L852.3 1331.9 L853.6 1333.9 L854.9 1335.9 L856.1 1337.9 L857.3 1339.9 L858.5 1341.8 L859.6 1343.9 L860.6 1346.0 L861.4 1348.1 L862.0 1350.4 L862.5 1352.6 L863.0 1354.9 L863.5 1357.1 L864.1 1359.3 L864.8 1361.6 L865.3 1363.9 Z" fill="url(#mem)" stroke="#8a8cb4" stroke-width="1.0"/>
<circle cx="795.1" cy="1348.7" r="4" fill="url(#rdot)"/>
<circle cx="784.9" cy="1356" r="4" fill="url(#rdot)"/>
<circle cx="805.2" cy="1360.1" r="4" fill="url(#rdot)"/>
<circle cx="793" cy="1363.4" r="4" fill="url(#rdot)"/>
<circle cx="817.8" cy="1356.9" r="4" fill="url(#rdot)"/>
<circle cx="800.4" cy="1369.9" r="4" fill="url(#rdot)"/>
<circle cx="822.3" cy="1367" r="4" fill="url(#rdot)"/>
<circle cx="834.5" cy="1368.2" r="4" fill="url(#rdot)"/>
<circle cx="787.8" cy="1373.9" r="4" fill="url(#rdot)"/>
<circle cx="809.7" cy="1376.8" r="4" fill="url(#rdot)"/>
<circle cx="822.3" cy="1376" r="4" fill="url(#rdot)"/>
<circle cx="800.4" cy="1380" r="4" fill="url(#rdot)"/>
<circle cx="789" cy="1385.7" r="4" fill="url(#rdot)"/>
<circle cx="795.9" cy="1389" r="4" fill="url(#rdot)"/>
<circle cx="809.3" cy="1393.4" r="4" fill="url(#rdot)"/>
<circle cx="821.5" cy="1387.8" r="4" fill="url(#rdot)"/>
<g fill="url(#neut)"><ellipse cx="810" cy="1338" rx="15.5" ry="11.8"/><path d="M818 1330 C824 1331 829 1333 834 1336 L836 1343 C830 1343 824 1344 818 1346 Z"/><ellipse cx="837.2" cy="1349.4" rx="11.2" ry="15.6"/><path d="M836 1362 L846 1362 C845 1366 845 1369 847 1372 L832 1372 C835 1369 837 1366 836 1362 Z"/><ellipse cx="838.4" cy="1382.5" rx="12.4" ry="16.8" fill="url(#neut2)"/></g>
<path d="M1038.8 1367.2 L1038.4 1369.6 L1038.1 1371.9 L1037.7 1374.2 L1037.3 1376.5 L1036.9 1378.8 L1036.4 1381.1 L1035.6 1383.3 L1034.7 1385.4 L1033.6 1387.5 L1032.4 1389.5 L1031.3 1391.6 L1030.3 1393.6 L1029.3 1395.8 L1028.2 1397.9 L1027.1 1400.0 L1025.8 1402.0 L1024.2 1403.8 L1022.4 1405.4 L1020.5 1406.8 L1018.6 1408.2 L1016.6 1409.5 L1014.6 1410.8 L1012.6 1412.1 L1010.6 1413.3 L1008.5 1414.4 L1006.3 1415.2 L1004.0 1415.8 L1001.6 1416.3 L999.3 1416.8 L997.1 1417.3 L994.8 1417.8 L992.5 1418.5 L990.2 1419.1 L987.9 1419.6 L985.5 1419.9 L983.1 1419.9 L980.7 1419.7 L978.4 1419.3 L976.0 1418.8 L973.7 1418.3 L971.4 1417.8 L969.1 1417.2 L966.8 1416.4 L964.6 1415.5 L962.5 1414.3 L960.6 1413.0 L958.7 1411.5 L956.9 1410.1 L955.0 1408.7 L953.1 1407.4 L951.1 1406.1 L949.1 1404.8 L947.2 1403.4 L945.5 1401.8 L943.9 1400.0 L942.5 1398.1 L941.3 1396.1 L940.0 1394.1 L938.8 1392.1 L937.6 1390.0 L936.4 1387.9 L935.5 1385.8 L934.8 1383.5 L934.4 1381.2 L934.2 1378.8 L934.0 1376.4 L933.9 1374.1 L933.8 1371.8 L933.5 1369.5 L933.2 1367.2 L933.0 1364.9 L932.9 1362.5 L933.0 1360.2 L933.4 1357.9 L934.0 1355.6 L934.6 1353.3 L935.2 1351.0 L935.8 1348.8 L936.5 1346.5 L937.3 1344.3 L938.3 1342.1 L939.6 1340.1 L941.1 1338.2 L942.8 1336.5 L944.5 1334.9 L946.2 1333.3 L947.9 1331.6 L949.5 1329.9 L951.1 1328.2 L952.7 1326.6 L954.5 1325.0 L956.4 1323.7 L958.5 1322.5 L960.6 1321.4 L962.7 1320.3 L964.7 1319.2 L966.9 1318.1 L969.0 1317.0 L971.2 1316.1 L973.6 1315.5 L975.9 1315.1 L978.4 1315.0 L980.8 1315.2 L983.1 1315.3 L985.5 1315.5 L987.8 1315.6 L990.2 1315.7 L992.5 1315.8 L994.9 1316.1 L997.2 1316.5 L999.5 1317.1 L1001.7 1317.9 L1003.9 1318.7 L1006.1 1319.5 L1008.4 1320.3 L1010.6 1321.1 L1012.9 1321.9 L1015.0 1323.0 L1017.1 1324.3 L1018.9 1325.8 L1020.6 1327.5 L1022.1 1329.4 L1023.5 1331.2 L1025.0 1333.1 L1026.5 1334.9 L1028.0 1336.7 L1029.4 1338.6 L1030.7 1340.5 L1031.8 1342.6 L1032.7 1344.7 L1033.5 1346.9 L1034.4 1349.1 L1035.2 1351.2 L1036.2 1353.4 L1037.1 1355.6 L1038.0 1357.8 L1038.6 1360.1 L1038.9 1362.4 L1039.0 1364.8 Z" fill="url(#mem)" stroke="#8a8cb4" stroke-width="1.0"/>
<circle cx="986.5" cy="1370" r="31" fill="url(#nBcell)"/><circle cx="986.5" cy="1370" r="31" fill="url(#bR)"/><circle cx="986.5" cy="1370" r="31" fill="url(#hiL)"/><circle cx="986.5" cy="1370" r="31" fill="url(#rim)"/>
<path d="M1292.4 1366.6 L1292.6 1369.0 L1292.6 1371.3 L1292.2 1373.7 L1291.6 1376.0 L1290.9 1378.2 L1290.1 1380.5 L1289.4 1382.7 L1288.7 1384.9 L1287.8 1387.1 L1286.8 1389.2 L1285.6 1391.2 L1284.3 1393.1 L1282.8 1395.0 L1281.2 1396.7 L1279.7 1398.5 L1278.3 1400.3 L1276.9 1402.2 L1275.5 1404.2 L1274.0 1406.0 L1272.3 1407.7 L1270.4 1409.2 L1268.4 1410.4 L1266.3 1411.6 L1264.1 1412.6 L1262.0 1413.6 L1259.8 1414.6 L1257.6 1415.5 L1255.3 1416.4 L1253.0 1417.0 L1250.7 1417.4 L1248.3 1417.6 L1245.9 1417.6 L1243.5 1417.6 L1241.1 1417.7 L1238.8 1417.8 L1236.4 1418.1 L1234.0 1418.3 L1231.6 1418.3 L1229.2 1418.1 L1226.9 1417.7 L1224.6 1417.1 L1222.3 1416.3 L1220.0 1415.5 L1217.8 1414.6 L1215.6 1413.8 L1213.4 1412.8 L1211.2 1411.7 L1209.2 1410.4 L1207.4 1408.8 L1205.7 1407.1 L1204.1 1405.4 L1202.6 1403.6 L1201.0 1401.9 L1199.3 1400.3 L1197.6 1398.7 L1195.9 1397.1 L1194.4 1395.3 L1193.0 1393.4 L1191.8 1391.3 L1190.7 1389.2 L1189.8 1387.1 L1188.9 1384.9 L1188.0 1382.7 L1187.1 1380.6 L1186.3 1378.3 L1185.7 1376.0 L1185.5 1373.7 L1185.5 1371.3 L1185.7 1368.9 L1186.0 1366.6 L1186.4 1364.3 L1186.6 1362.0 L1186.8 1359.7 L1186.9 1357.4 L1187.2 1355.1 L1187.6 1352.8 L1188.2 1350.5 L1189.0 1348.3 L1190.0 1346.2 L1191.0 1344.1 L1191.9 1341.9 L1192.9 1339.8 L1194.0 1337.7 L1195.1 1335.6 L1196.5 1333.7 L1198.2 1331.9 L1200.0 1330.4 L1202.0 1329.0 L1204.0 1327.7 L1206.0 1326.4 L1207.9 1325.0 L1209.8 1323.6 L1211.7 1322.3 L1213.7 1321.0 L1215.8 1319.9 L1218.0 1319.0 L1220.2 1318.2 L1222.5 1317.5 L1224.7 1316.8 L1227.0 1316.0 L1229.3 1315.2 L1231.6 1314.5 L1234.0 1314.0 L1236.4 1313.8 L1238.8 1313.8 L1241.2 1314.2 L1243.6 1314.7 L1245.9 1315.3 L1248.2 1315.8 L1250.5 1316.3 L1252.9 1316.8 L1255.2 1317.4 L1257.4 1318.1 L1259.6 1319.0 L1261.7 1320.1 L1263.8 1321.2 L1265.8 1322.4 L1267.8 1323.6 L1269.9 1324.7 L1272.1 1325.8 L1274.1 1327.1 L1276.1 1328.5 L1277.9 1330.1 L1279.4 1331.9 L1280.8 1333.9 L1282.0 1335.9 L1283.2 1338.0 L1284.3 1340.0 L1285.5 1342.1 L1286.6 1344.1 L1287.6 1346.2 L1288.5 1348.4 L1289.1 1350.6 L1289.6 1352.9 L1290.0 1355.2 L1290.4 1357.4 L1290.9 1359.7 L1291.4 1362.0 L1292.0 1364.3 Z" fill="url(#mem)" stroke="#8a8cb4" stroke-width="1.0"/>
<circle cx="1238" cy="1375.3" r="31.2" fill="url(#nTcell)"/><circle cx="1238" cy="1375.3" r="31.2" fill="url(#hiL)" opacity="0.6"/><circle cx="1238" cy="1375.3" r="31.2" fill="url(#rim)"/>
<path d="M1541.0 1366.8 L1538.5 1370.6 L1540.4 1374.8 L1537.3 1378.2 L1538.6 1382.5 L1535.0 1385.4 L1535.7 1390.0 L1531.7 1392.3 L1531.6 1396.9 L1527.3 1398.6 L1526.6 1403.1 L1522.1 1404.2 L1520.7 1408.5 L1516.1 1409.0 L1514.0 1413.0 L1509.4 1412.8 L1506.7 1416.5 L1502.2 1415.6 L1499.0 1418.9 L1494.7 1417.3 L1491.0 1420.1 L1487.0 1417.8 L1483.0 1420.1 L1479.3 1417.3 L1475.0 1418.9 L1471.8 1415.6 L1467.3 1416.5 L1464.6 1412.8 L1460.0 1413.0 L1457.9 1409.0 L1453.3 1408.5 L1451.9 1404.2 L1447.4 1403.1 L1446.7 1398.6 L1442.4 1396.9 L1442.3 1392.3 L1438.3 1390.0 L1439.0 1385.4 L1435.4 1382.5 L1436.7 1378.2 L1433.6 1374.8 L1435.5 1370.6 L1433.0 1366.8 L1435.5 1363.0 L1433.6 1358.8 L1436.7 1355.4 L1435.4 1351.1 L1439.0 1348.2 L1438.3 1343.6 L1442.3 1341.3 L1442.4 1336.7 L1446.7 1335.0 L1447.4 1330.5 L1451.9 1329.4 L1453.3 1325.1 L1457.9 1324.6 L1460.0 1320.6 L1464.6 1320.8 L1467.3 1317.1 L1471.8 1318.0 L1475.0 1314.7 L1479.3 1316.3 L1483.0 1313.5 L1487.0 1315.8 L1491.0 1313.5 L1494.7 1316.3 L1499.0 1314.7 L1502.2 1318.0 L1506.7 1317.1 L1509.4 1320.8 L1514.0 1320.6 L1516.1 1324.6 L1520.7 1325.1 L1522.1 1329.4 L1526.6 1330.5 L1527.3 1335.0 L1531.6 1336.7 L1531.7 1341.3 L1535.7 1343.6 L1535.0 1348.2 L1538.6 1351.1 L1537.3 1355.4 L1540.4 1358.8 L1538.5 1363.0 Z" fill="url(#mem)" stroke="#7c84b8" stroke-width="0.9"/>
<circle cx="1485.6" cy="1372.7" r="33.5" fill="url(#nNK)"/><circle cx="1485.6" cy="1372.7" r="33.5" fill="url(#rim)"/>
<circle cx="1495" cy="1330" r="2.0" fill="#e42420" opacity="0.9"/>
<circle cx="1491" cy="1336" r="2.0" fill="#e42420" opacity="0.9"/>
<circle cx="1497" cy="1339" r="2.0" fill="#e42420" opacity="0.9"/>
<circle cx="1508" cy="1336" r="2.2" fill="#e42420" opacity="0.9"/>
<circle cx="1503" cy="1344" r="2.4" fill="#e42420" opacity="0.9"/>
<circle cx="1480" cy="1339" r="1.8" fill="#e42420" opacity="0.9"/>
<circle cx="1485" cy="1341" r="1.6" fill="#e42420" opacity="0.9"/>
<circle cx="1480" cy="1348" r="1.5" fill="#e42420" opacity="0.9"/>
<circle cx="1477" cy="1354" r="1.6" fill="#e42420" opacity="0.9"/>
<circle cx="1473" cy="1357" r="2.0" fill="#e42420" opacity="0.9"/>
<circle cx="1477" cy="1366" r="2.0" fill="#e42420" opacity="0.9"/>
<circle cx="1461" cy="1365" r="2.0" fill="#e42420" opacity="0.9"/>
<circle cx="1469" cy="1368" r="2.0" fill="#e42420" opacity="0.9"/>
<circle cx="1463" cy="1371" r="2.0" fill="#e42420" opacity="0.9"/>
<circle cx="1495" cy="1355" r="1.8" fill="#e42420" opacity="0.9"/>
<circle cx="1501" cy="1367" r="1.8" fill="#e42420" opacity="0.9"/>
<circle cx="1495" cy="1378" r="1.8" fill="#e42420" opacity="0.9"/>
<circle cx="1501" cy="1382" r="2.0" fill="#e42420" opacity="0.9"/>
<circle cx="1507" cy="1385" r="2.0" fill="#e42420" opacity="0.9"/>
<circle cx="1473" cy="1380" r="1.8" fill="#e42420" opacity="0.9"/>
<circle cx="1460" cy="1381" r="1.8" fill="#e42420" opacity="0.9"/>
<circle cx="1466" cy="1387" r="1.6" fill="#e42420" opacity="0.9"/>
<circle cx="1469" cy="1393" r="1.6" fill="#e42420" opacity="0.9"/>
<circle cx="1490" cy="1388" r="2.0" fill="#e42420" opacity="0.9"/>
<circle cx="1506" cy="1391" r="1.8" fill="#e42420" opacity="0.9"/>
<circle cx="1519" cy="1366" r="1.5" fill="#e42420" opacity="0.9"/>
<circle cx="1520" cy="1381" r="1.5" fill="#e42420" opacity="0.9"/>
<circle cx="1520" cy="1396" r="1.4" fill="#e42420" opacity="0.9"/>
<circle cx="1488" cy="1343" r="1.4" fill="#f08070" opacity="0.85"/>
<circle cx="1470" cy="1345" r="1.3" fill="#60c8b8" opacity="0.85"/>
<circle cx="1500" cy="1350" r="1.5" fill="#e86040" opacity="0.85"/>
<circle cx="1466" cy="1375" r="1.5" fill="#a0c060" opacity="0.85"/>
<circle cx="1478" cy="1372" r="1.4" fill="#e06040" opacity="0.85"/>
<circle cx="1512" cy="1372" r="1.5" fill="#e86040" opacity="0.85"/>
<circle cx="1490" cy="1365" r="1.3" fill="#f0a080" opacity="0.85"/>
<circle cx="1498" cy="1395" r="1.4" fill="#e06040" opacity="0.85"/>
<circle cx="1483" cy="1398" r="1.5" fill="#d86040" opacity="0.85"/>
<circle cx="1457" cy="1372" r="1.2" fill="#60c0b0" opacity="0.85"/>
<circle cx="1515" cy="1360" r="1.2" fill="#f09090" opacity="0.85"/>
<circle cx="1521" cy="1388" r="1.3" fill="#60c8b8" opacity="0.85"/>
<circle cx="1478" cy="1330" r="1.4" fill="#e84040" opacity="0.85"/>
<circle cx="1486" cy="1326" r="1.3" fill="#60c8c8" opacity="0.85"/>
<circle cx="1510" cy="1347" r="1.4" fill="#e84040" opacity="0.85"/>
<circle cx="1455" cy="1388" r="1.3" fill="#e05030" opacity="0.85"/>
<circle cx="1492" cy="1382" r="1.3" fill="#c0c060" opacity="0.85"/>
<path d="M87.6 1351.4 A43.9 43.9 0 0 1 101.8 1331.8" stroke="#fff" stroke-width="2.2" stroke-linecap="round" fill="none" opacity="0.9"/><path d="M110.3 1326.6 A43.9 43.9 0 0 1 122.7 1323.0" stroke="#fff" stroke-width="2.0" stroke-linecap="round" fill="none" opacity="0.9"/><path d="M85.6 1374.0 A43.9 43.9 0 0 1 85.2 1361.8" stroke="#fff" stroke-width="1.8" stroke-linecap="round" fill="none" opacity="0.9"/>
<path d="M314.2 1350.1 A43.4 43.4 0 0 1 328.3 1330.8" stroke="#fff" stroke-width="2.2" stroke-linecap="round" fill="none" opacity="0.9"/><path d="M336.6 1325.6 A43.4 43.4 0 0 1 349.0 1322.0" stroke="#fff" stroke-width="2.0" stroke-linecap="round" fill="none" opacity="0.9"/><path d="M312.2 1372.5 A43.4 43.4 0 0 1 311.8 1360.5" stroke="#fff" stroke-width="1.8" stroke-linecap="round" fill="none" opacity="0.9"/>
<path d="M544.6 1351.0 A43.9 43.9 0 0 1 558.8 1331.4" stroke="#fff" stroke-width="2.2" stroke-linecap="round" fill="none" opacity="0.9"/><path d="M567.3 1326.2 A43.9 43.9 0 0 1 579.7 1322.6" stroke="#fff" stroke-width="2.0" stroke-linecap="round" fill="none" opacity="0.9"/><path d="M542.6 1373.6 A43.9 43.9 0 0 1 542.2 1361.4" stroke="#fff" stroke-width="1.8" stroke-linecap="round" fill="none" opacity="0.9"/>
<path d="M770.4 1351.1 A44.3 44.3 0 0 1 784.7 1331.3" stroke="#fff" stroke-width="2.2" stroke-linecap="round" fill="none" opacity="0.9"/><path d="M793.3 1326.1 A44.3 44.3 0 0 1 805.8 1322.3" stroke="#fff" stroke-width="2.0" stroke-linecap="round" fill="none" opacity="0.9"/><path d="M768.4 1373.9 A44.3 44.3 0 0 1 768.0 1361.6" stroke="#fff" stroke-width="1.8" stroke-linecap="round" fill="none" opacity="0.9"/>
<path d="M943.5 1351.9 A44.7 44.7 0 0 1 958.0 1332.0" stroke="#fff" stroke-width="2.2" stroke-linecap="round" fill="none" opacity="0.9"/><path d="M966.6 1326.7 A44.7 44.7 0 0 1 979.3 1322.9" stroke="#fff" stroke-width="2.0" stroke-linecap="round" fill="none" opacity="0.9"/><path d="M941.5 1375.0 A44.7 44.7 0 0 1 941.0 1362.5" stroke="#fff" stroke-width="1.8" stroke-linecap="round" fill="none" opacity="0.9"/>
<path d="M1196.8 1351.3 A44.7 44.7 0 0 1 1211.3 1331.4" stroke="#fff" stroke-width="2.2" stroke-linecap="round" fill="none" opacity="0.9"/><path d="M1219.9 1326.1 A44.7 44.7 0 0 1 1232.6 1322.3" stroke="#fff" stroke-width="2.0" stroke-linecap="round" fill="none" opacity="0.9"/><path d="M1194.8 1374.4 A44.7 44.7 0 0 1 1194.3 1361.9" stroke="#fff" stroke-width="1.8" stroke-linecap="round" fill="none" opacity="0.9"/>
<path d="M1446.6 1352.1 A43.0 43.0 0 0 1 1460.5 1332.9" stroke="#fff" stroke-width="2.2" stroke-linecap="round" fill="none" opacity="0.9"/><path d="M1468.8 1327.8 A43.0 43.0 0 0 1 1481.0 1324.2" stroke="#fff" stroke-width="2.0" stroke-linecap="round" fill="none" opacity="0.9"/><path d="M1444.7 1374.3 A43.0 43.0 0 0 1 1444.2 1362.3" stroke="#fff" stroke-width="1.8" stroke-linecap="round" fill="none" opacity="0.9"/>
<g><path d="M-477.3 -112.2 L-313.7 27.7 M-510.7 -112.2 L-588.4 -45.7 M-83.3 -112.2 L74.2 22.5 M-116.7 -112.2 L-280.3 27.7 M310.7 -112.2 L474.3 27.7 M277.3 -112.2 L199.6 -45.7 M704.7 -112.2 L862.2 22.5 M671.3 -112.2 L507.7 27.7 M1098.7 -112.2 L1262.3 27.7 M1065.3 -112.2 L987.6 -45.7 M1492.7 -112.2 L1650.2 22.5 M1459.3 -112.2 L1295.7 27.7 M1886.7 -112.2 L2050.3 27.7 M1853.3 -112.2 L1775.6 -45.7 M2247.3 -112.2 L2083.7 27.7 M-668.2 61.5 L-510.7 196.2 M-280.3 56.3 L-116.7 196.2 M-313.7 56.3 L-477.3 196.2 M119.8 61.5 L277.3 196.2 M-5.6 129.7 L-83.3 196.2 M507.7 56.3 L671.3 196.2 M474.3 56.3 L310.7 196.2 M907.8 61.5 L1065.3 196.2 M782.4 129.7 L704.7 196.2 M1295.7 56.3 L1459.3 196.2 M1262.3 56.3 L1098.7 196.2 M1695.8 61.5 L1853.3 196.2 M1570.4 129.7 L1492.7 196.2 M2083.7 56.3 L2247.3 196.2 M2050.3 56.3 L1886.7 196.2 M-477.3 224.8 L-319.8 359.5 M-510.7 224.8 L-674.3 364.7 M-83.3 224.8 L80.3 364.7 M-116.7 224.8 L-194.4 291.3 M310.7 224.8 L468.2 359.5 M277.3 224.8 L113.7 364.7 M704.7 224.8 L868.3 364.7 M671.3 224.8 L593.6 291.3 M1098.7 224.8 L1256.2 359.5 M1065.3 224.8 L901.7 364.7 M1492.7 224.8 L1656.3 364.7 M1459.3 224.8 L1381.6 291.3 M1886.7 224.8 L2044.2 359.5 M1853.3 224.8 L1689.7 364.7 M2247.3 224.8 L2169.6 291.3 M-674.3 393.3 L-510.7 533.2 M-274.2 398.5 L-116.7 533.2 M-399.6 466.7 L-477.3 533.2 M113.7 393.3 L277.3 533.2 M80.3 393.3 L-83.3 533.2 M513.8 398.5 L671.3 533.2 M388.4 466.7 L310.7 533.2 M901.7 393.3 L1065.3 533.2 M868.3 393.3 L704.7 533.2 M1301.8 398.5 L1459.3 533.2 M1176.4 466.7 L1098.7 533.2 M1689.7 393.3 L1853.3 533.2 M1656.3 393.3 L1492.7 533.2 M2089.8 398.5 L2247.3 533.2 M1964.4 466.7 L1886.7 533.2 M-477.3 561.8 L-313.7 701.7 M-510.7 561.8 L-588.4 628.3 M-83.3 561.8 L74.2 696.5 M-116.7 561.8 L-280.3 701.7 M310.7 561.8 L474.3 701.7 M277.3 561.8 L199.6 628.3 M704.7 561.8 L862.2 696.5 M671.3 561.8 L507.7 701.7 M1098.7 561.8 L1262.3 701.7 M1065.3 561.8 L987.6 628.3 M1492.7 561.8 L1650.2 696.5 M1459.3 561.8 L1295.7 701.7 M1886.7 561.8 L2050.3 701.7 M1853.3 561.8 L1775.6 628.3 M2247.3 561.8 L2083.7 701.7 M-668.2 735.5 L-510.7 870.2 M-280.3 730.3 L-116.7 870.2 M-313.7 730.3 L-477.3 870.2 M119.8 735.5 L277.3 870.2 M-5.6 803.7 L-83.3 870.2 M507.7 730.3 L671.3 870.2 M474.3 730.3 L310.7 870.2 M907.8 735.5 L1065.3 870.2 M782.4 803.7 L704.7 870.2 M1295.7 730.3 L1459.3 870.2 M1262.3 730.3 L1098.7 870.2 M1695.8 735.5 L1853.3 870.2 M1570.4 803.7 L1492.7 870.2 M2083.7 730.3 L2247.3 870.2 M2050.3 730.3 L1886.7 870.2 M-477.3 898.8 L-319.8 1033.5 M-510.7 898.8 L-674.3 1038.7 M-83.3 898.8 L80.3 1038.7 M-116.7 898.8 L-194.4 965.3 M310.7 898.8 L468.2 1033.5 M277.3 898.8 L113.7 1038.7 M704.7 898.8 L868.3 1038.7 M671.3 898.8 L593.6 965.3 M1098.7 898.8 L1256.2 1033.5 M1065.3 898.8 L901.7 1038.7 M1492.7 898.8 L1656.3 1038.7 M1459.3 898.8 L1381.6 965.3 M1886.7 898.8 L2044.2 1033.5 M1853.3 898.8 L1689.7 1038.7 M2247.3 898.8 L2169.6 965.3 M-674.3 1067.3 L-510.7 1207.2 M-274.2 1072.5 L-116.7 1207.2 M-399.6 1140.7 L-477.3 1207.2 M113.7 1067.3 L277.3 1207.2 M80.3 1067.3 L-83.3 1207.2 M513.8 1072.5 L671.3 1207.2 M388.4 1140.7 L310.7 1207.2 M901.7 1067.3 L1065.3 1207.2 M868.3 1067.3 L704.7 1207.2 M1301.8 1072.5 L1459.3 1207.2 M1176.4 1140.7 L1098.7 1207.2 M1689.7 1067.3 L1853.3 1207.2 M1656.3 1067.3 L1492.7 1207.2 M2089.8 1072.5 L2247.3 1207.2 M1964.4 1140.7 L1886.7 1207.2 M-477.3 1235.8 L-313.7 1375.7 M-510.7 1235.8 L-588.4 1302.3 M-83.3 1235.8 L74.2 1370.5 M-116.7 1235.8 L-280.3 1375.7 M310.7 1235.8 L474.3 1375.7 M277.3 1235.8 L199.6 1302.3 M704.7 1235.8 L862.2 1370.5 M671.3 1235.8 L507.7 1375.7 M1098.7 1235.8 L1262.3 1375.7 M1065.3 1235.8 L987.6 1302.3 M1492.7 1235.8 L1656.3 1375.7 M1459.3 1235.8 L1295.7 1375.7 M1886.7 1235.8 L2050.3 1375.7 M1853.3 1235.8 L1689.7 1375.7 M2247.3 1235.8 L2083.7 1375.7 M-668.2 1409.5 L-510.7 1544.2 M-280.3 1404.3 L-116.7 1544.2 M-313.7 1404.3 L-477.3 1544.2 M119.8 1409.5 L277.3 1544.2 M-5.6 1477.7 L-83.3 1544.2 M507.7 1404.3 L671.3 1544.2 M474.3 1404.3 L310.7 1544.2 M907.8 1409.5 L1065.3 1544.2 M782.4 1477.7 L704.7 1544.2 M1297.4 1402.1 L1469.0 1515.5 M1262.3 1404.3 L1098.7 1544.2 M1689.7 1404.3 L1853.3 1544.2 M1655.8 1403.7 L1599.8 1448.1 M2083.7 1404.3 L2247.3 1544.2 M2050.3 1404.3 L1886.7 1544.2 M-477.3 1572.8 L-319.8 1707.5 M-510.7 1572.8 L-674.3 1712.7 M-83.3 1572.8 L80.3 1712.7 M-116.7 1572.8 L-194.4 1639.3 M310.7 1572.8 L468.2 1707.5 M277.3 1572.8 L113.7 1712.7 M704.7 1572.8 L868.3 1712.7 M671.3 1572.8 L593.6 1639.3 M1098.7 1572.8 L1256.2 1707.5 M1065.3 1572.8 L901.7 1712.7 M1514.3 1554.1 L1658.1 1710.8 M1394.0 1622.7 L1379.0 1636.3 M1886.7 1572.8 L2044.2 1707.5 M1853.3 1572.8 L1689.7 1712.7 M2247.3 1572.8 L2169.6 1639.3" stroke="#000" stroke-opacity="0.045" stroke-width="3" fill="none"/><path d="M-477.3 -112.2 L-313.7 27.7 M-510.7 -112.2 L-588.4 -45.7 M-83.3 -112.2 L74.2 22.5 M-116.7 -112.2 L-280.3 27.7 M310.7 -112.2 L474.3 27.7 M277.3 -112.2 L199.6 -45.7 M704.7 -112.2 L862.2 22.5 M671.3 -112.2 L507.7 27.7 M1098.7 -112.2 L1262.3 27.7 M1065.3 -112.2 L987.6 -45.7 M1492.7 -112.2 L1650.2 22.5 M1459.3 -112.2 L1295.7 27.7 M1886.7 -112.2 L2050.3 27.7 M1853.3 -112.2 L1775.6 -45.7 M2247.3 -112.2 L2083.7 27.7 M-668.2 61.5 L-510.7 196.2 M-280.3 56.3 L-116.7 196.2 M-313.7 56.3 L-477.3 196.2 M119.8 61.5 L277.3 196.2 M-5.6 129.7 L-83.3 196.2 M507.7 56.3 L671.3 196.2 M474.3 56.3 L310.7 196.2 M907.8 61.5 L1065.3 196.2 M782.4 129.7 L704.7 196.2 M1295.7 56.3 L1459.3 196.2 M1262.3 56.3 L1098.7 196.2 M1695.8 61.5 L1853.3 196.2 M1570.4 129.7 L1492.7 196.2 M2083.7 56.3 L2247.3 196.2 M2050.3 56.3 L1886.7 196.2 M-477.3 224.8 L-319.8 359.5 M-510.7 224.8 L-674.3 364.7 M-83.3 224.8 L80.3 364.7 M-116.7 224.8 L-194.4 291.3 M310.7 224.8 L468.2 359.5 M277.3 224.8 L113.7 364.7 M704.7 224.8 L868.3 364.7 M671.3 224.8 L593.6 291.3 M1098.7 224.8 L1256.2 359.5 M1065.3 224.8 L901.7 364.7 M1492.7 224.8 L1656.3 364.7 M1459.3 224.8 L1381.6 291.3 M1886.7 224.8 L2044.2 359.5 M1853.3 224.8 L1689.7 364.7 M2247.3 224.8 L2169.6 291.3 M-674.3 393.3 L-510.7 533.2 M-274.2 398.5 L-116.7 533.2 M-399.6 466.7 L-477.3 533.2 M113.7 393.3 L277.3 533.2 M80.3 393.3 L-83.3 533.2 M513.8 398.5 L671.3 533.2 M388.4 466.7 L310.7 533.2 M901.7 393.3 L1065.3 533.2 M868.3 393.3 L704.7 533.2 M1301.8 398.5 L1459.3 533.2 M1176.4 466.7 L1098.7 533.2 M1689.7 393.3 L1853.3 533.2 M1656.3 393.3 L1492.7 533.2 M2089.8 398.5 L2247.3 533.2 M1964.4 466.7 L1886.7 533.2 M-477.3 561.8 L-313.7 701.7 M-510.7 561.8 L-588.4 628.3 M-83.3 561.8 L74.2 696.5 M-116.7 561.8 L-280.3 701.7 M310.7 561.8 L474.3 701.7 M277.3 561.8 L199.6 628.3 M704.7 561.8 L862.2 696.5 M671.3 561.8 L507.7 701.7 M1098.7 561.8 L1262.3 701.7 M1065.3 561.8 L987.6 628.3 M1492.7 561.8 L1650.2 696.5 M1459.3 561.8 L1295.7 701.7 M1886.7 561.8 L2050.3 701.7 M1853.3 561.8 L1775.6 628.3 M2247.3 561.8 L2083.7 701.7 M-668.2 735.5 L-510.7 870.2 M-280.3 730.3 L-116.7 870.2 M-313.7 730.3 L-477.3 870.2 M119.8 735.5 L277.3 870.2 M-5.6 803.7 L-83.3 870.2 M507.7 730.3 L671.3 870.2 M474.3 730.3 L310.7 870.2 M907.8 735.5 L1065.3 870.2 M782.4 803.7 L704.7 870.2 M1295.7 730.3 L1459.3 870.2 M1262.3 730.3 L1098.7 870.2 M1695.8 735.5 L1853.3 870.2 M1570.4 803.7 L1492.7 870.2 M2083.7 730.3 L2247.3 870.2 M2050.3 730.3 L1886.7 870.2 M-477.3 898.8 L-319.8 1033.5 M-510.7 898.8 L-674.3 1038.7 M-83.3 898.8 L80.3 1038.7 M-116.7 898.8 L-194.4 965.3 M310.7 898.8 L468.2 1033.5 M277.3 898.8 L113.7 1038.7 M704.7 898.8 L868.3 1038.7 M671.3 898.8 L593.6 965.3 M1098.7 898.8 L1256.2 1033.5 M1065.3 898.8 L901.7 1038.7 M1492.7 898.8 L1656.3 1038.7 M1459.3 898.8 L1381.6 965.3 M1886.7 898.8 L2044.2 1033.5 M1853.3 898.8 L1689.7 1038.7 M2247.3 898.8 L2169.6 965.3 M-674.3 1067.3 L-510.7 1207.2 M-274.2 1072.5 L-116.7 1207.2 M-399.6 1140.7 L-477.3 1207.2 M113.7 1067.3 L277.3 1207.2 M80.3 1067.3 L-83.3 1207.2 M513.8 1072.5 L671.3 1207.2 M388.4 1140.7 L310.7 1207.2 M901.7 1067.3 L1065.3 1207.2 M868.3 1067.3 L704.7 1207.2 M1301.8 1072.5 L1459.3 1207.2 M1176.4 1140.7 L1098.7 1207.2 M1689.7 1067.3 L1853.3 1207.2 M1656.3 1067.3 L1492.7 1207.2 M2089.8 1072.5 L2247.3 1207.2 M1964.4 1140.7 L1886.7 1207.2 M-477.3 1235.8 L-313.7 1375.7 M-510.7 1235.8 L-588.4 1302.3 M-83.3 1235.8 L74.2 1370.5 M-116.7 1235.8 L-280.3 1375.7 M310.7 1235.8 L474.3 1375.7 M277.3 1235.8 L199.6 1302.3 M704.7 1235.8 L862.2 1370.5 M671.3 1235.8 L507.7 1375.7 M1098.7 1235.8 L1262.3 1375.7 M1065.3 1235.8 L987.6 1302.3 M1492.7 1235.8 L1656.3 1375.7 M1459.3 1235.8 L1295.7 1375.7 M1886.7 1235.8 L2050.3 1375.7 M1853.3 1235.8 L1689.7 1375.7 M2247.3 1235.8 L2083.7 1375.7 M-668.2 1409.5 L-510.7 1544.2 M-280.3 1404.3 L-116.7 1544.2 M-313.7 1404.3 L-477.3 1544.2 M119.8 1409.5 L277.3 1544.2 M-5.6 1477.7 L-83.3 1544.2 M507.7 1404.3 L671.3 1544.2 M474.3 1404.3 L310.7 1544.2 M907.8 1409.5 L1065.3 1544.2 M782.4 1477.7 L704.7 1544.2 M1297.4 1402.1 L1469.0 1515.5 M1262.3 1404.3 L1098.7 1544.2 M1689.7 1404.3 L1853.3 1544.2 M1655.8 1403.7 L1599.8 1448.1 M2083.7 1404.3 L2247.3 1544.2 M2050.3 1404.3 L1886.7 1544.2 M-477.3 1572.8 L-319.8 1707.5 M-510.7 1572.8 L-674.3 1712.7 M-83.3 1572.8 L80.3 1712.7 M-116.7 1572.8 L-194.4 1639.3 M310.7 1572.8 L468.2 1707.5 M277.3 1572.8 L113.7 1712.7 M704.7 1572.8 L868.3 1712.7 M671.3 1572.8 L593.6 1639.3 M1098.7 1572.8 L1256.2 1707.5 M1065.3 1572.8 L901.7 1712.7 M1514.3 1554.1 L1658.1 1710.8 M1394.0 1622.7 L1379.0 1636.3 M1886.7 1572.8 L2044.2 1707.5 M1853.3 1572.8 L1689.7 1712.7 M2247.3 1572.8 L2169.6 1639.3" stroke="#fff" stroke-opacity="0.45" stroke-width="1.4" fill="none"/><text x="97" y="51.0" font-size="33" font-weight="bold" text-anchor="middle" textLength="250" lengthAdjust="spacingAndGlyphs" transform="rotate(-40.5 97 42.0)" fill="#fff" fill-opacity="0.35" stroke="#000" stroke-opacity="0.045" stroke-width="2.2">depositphotos</text><g transform="translate(491 42.0)" opacity="1"><rect x="-13" y="-9" width="26" height="18.5" rx="2" fill="#000" fill-opacity="0.06"/><circle cx="0" cy="0.5" r="6" fill="#fff" fill-opacity="0.6"/><circle cx="0" cy="0.5" r="4" fill="#000" fill-opacity="0.06"/></g><text x="885" y="51.0" font-size="33" font-weight="bold" text-anchor="middle" textLength="250" lengthAdjust="spacingAndGlyphs" transform="rotate(-40.5 885 42.0)" fill="#fff" fill-opacity="0.35" stroke="#000" stroke-opacity="0.045" stroke-width="2.2">depositphotos</text><g transform="translate(1279 42.0)" opacity="1"><rect x="-13" y="-9" width="26" height="18.5" rx="2" fill="#000" fill-opacity="0.06"/><circle cx="0" cy="0.5" r="6" fill="#fff" fill-opacity="0.6"/><circle cx="0" cy="0.5" r="4" fill="#000" fill-opacity="0.06"/></g><text x="1673" y="51.0" font-size="33" font-weight="bold" text-anchor="middle" textLength="250" lengthAdjust="spacingAndGlyphs" transform="rotate(-40.5 1673 42.0)" fill="#fff" fill-opacity="0.35" stroke="#000" stroke-opacity="0.045" stroke-width="2.2">depositphotos</text><g transform="translate(294 210.5)" opacity="1"><rect x="-13" y="-9" width="26" height="18.5" rx="2" fill="#000" fill-opacity="0.06"/><circle cx="0" cy="0.5" r="6" fill="#fff" fill-opacity="0.6"/><circle cx="0" cy="0.5" r="4" fill="#000" fill-opacity="0.06"/></g><g transform="translate(688 210.5)" opacity="1"><rect x="-13" y="-9" width="26" height="18.5" rx="2" fill="#000" fill-opacity="0.06"/><circle cx="0" cy="0.5" r="6" fill="#fff" fill-opacity="0.6"/><circle cx="0" cy="0.5" r="4" fill="#000" fill-opacity="0.06"/></g><g transform="translate(1082 210.5)" opacity="1"><rect x="-13" y="-9" width="26" height="18.5" rx="2" fill="#000" fill-opacity="0.06"/><circle cx="0" cy="0.5" r="6" fill="#fff" fill-opacity="0.6"/><circle cx="0" cy="0.5" r="4" fill="#000" fill-opacity="0.06"/></g><g transform="translate(1476 210.5)" opacity="1"><rect x="-13" y="-9" width="26" height="18.5" rx="2" fill="#000" fill-opacity="0.06"/><circle cx="0" cy="0.5" r="6" fill="#fff" fill-opacity="0.6"/><circle cx="0" cy="0.5" r="4" fill="#000" fill-opacity="0.06"/></g><g transform="translate(97 379.0)" opacity="1"><rect x="-13" y="-9" width="26" height="18.5" rx="2" fill="#000" fill-opacity="0.06"/><circle cx="0" cy="0.5" r="6" fill="#fff" fill-opacity="0.6"/><circle cx="0" cy="0.5" r="4" fill="#000" fill-opacity="0.06"/></g><text x="491" y="388.0" font-size="33" font-weight="bold" text-anchor="middle" textLength="250" lengthAdjust="spacingAndGlyphs" transform="rotate(-40.5 491 379.0)" fill="#fff" fill-opacity="0.35" stroke="#000" stroke-opacity="0.045" stroke-width="2.2">depositphotos</text><g transform="translate(885 379.0)" opacity="1"><rect x="-13" y="-9" width="26" height="18.5" rx="2" fill="#000" fill-opacity="0.06"/><circle cx="0" cy="0.5" r="6" fill="#fff" fill-opacity="0.6"/><circle cx="0" cy="0.5" r="4" fill="#000" fill-opacity="0.06"/></g><text x="1279" y="388.0" font-size="33" font-weight="bold" text-anchor="middle" textLength="250" lengthAdjust="spacingAndGlyphs" transform="rotate(-40.5 1279 379.0)" fill="#fff" fill-opacity="0.35" stroke="#000" stroke-opacity="0.045" stroke-width="2.2">depositphotos</text><g transform="translate(1673 379.0)" opacity="1"><rect x="-13" y="-9" width="26" height="18.5" rx="2" fill="#000" fill-opacity="0.06"/><circle cx="0" cy="0.5" r="6" fill="#fff" fill-opacity="0.6"/><circle cx="0" cy="0.5" r="4" fill="#000" fill-opacity="0.06"/></g><g transform="translate(294 547.5)" opacity="1"><rect x="-13" y="-9" width="26" height="18.5" rx="2" fill="#000" fill-opacity="0.06"/><circle cx="0" cy="0.5" r="6" fill="#fff" fill-opacity="0.6"/><circle cx="0" cy="0.5" r="4" fill="#000" fill-opacity="0.06"/></g><g transform="translate(688 547.5)" opacity="1"><rect x="-13" y="-9" width="26" height="18.5" rx="2" fill="#000" fill-opacity="0.06"/><circle cx="0" cy="0.5" r="6" fill="#fff" fill-opacity="0.6"/><circle cx="0" cy="0.5" r="4" fill="#000" fill-opacity="0.06"/></g><g transform="translate(1082 547.5)" opacity="1"><rect x="-13" y="-9" width="26" height="18.5" rx="2" fill="#000" fill-opacity="0.06"/><circle cx="0" cy="0.5" r="6" fill="#fff" fill-opacity="0.6"/><circle cx="0" cy="0.5" r="4" fill="#000" fill-opacity="0.06"/></g><g transform="translate(1476 547.5)" opacity="1"><rect x="-13" y="-9" width="26" height="18.5" rx="2" fill="#000" fill-opacity="0.06"/><circle cx="0" cy="0.5" r="6" fill="#fff" fill-opacity="0.6"/><circle cx="0" cy="0.5" r="4" fill="#000" fill-opacity="0.06"/></g><text x="97" y="725.0" font-size="33" font-weight="bold" text-anchor="middle" textLength="250" lengthAdjust="spacingAndGlyphs" transform="rotate(-40.5 97 716.0)" fill="#fff" fill-opacity="0.35" stroke="#000" stroke-opacity="0.045" stroke-width="2.2">depositphotos</text><g transform="translate(491 716.0)" opacity="1"><rect x="-13" y="-9" width="26" height="18.5" rx="2" fill="#000" fill-opacity="0.06"/><circle cx="0" cy="0.5" r="6" fill="#fff" fill-opacity="0.6"/><circle cx="0" cy="0.5" r="4" fill="#000" fill-opacity="0.06"/></g><text x="885" y="725.0" font-size="33" font-weight="bold" text-anchor="middle" textLength="250" lengthAdjust="spacingAndGlyphs" transform="rotate(-40.5 885 716.0)" fill="#fff" fill-opacity="0.35" stroke="#000" stroke-opacity="0.045" stroke-width="2.2">depositphotos</text><g transform="translate(1279 716.0)" opacity="1"><rect x="-13" y="-9" width="26" height="18.5" rx="2" fill="#000" fill-opacity="0.06"/><circle cx="0" cy="0.5" r="6" fill="#fff" fill-opacity="0.6"/><circle cx="0" cy="0.5" r="4" fill="#000" fill-opacity="0.06"/></g><text x="1673" y="725.0" font-size="33" font-weight="bold" text-anchor="middle" textLength="250" lengthAdjust="spacingAndGlyphs" transform="rotate(-40.5 1673 716.0)" fill="#fff" fill-opacity="0.35" stroke="#000" stroke-opacity="0.045" stroke-width="2.2">depositphotos</text><g transform="translate(294 884.5)" opacity="1"><rect x="-13" y="-9" width="26" height="18.5" rx="2" fill="#000" fill-opacity="0.06"/><circle cx="0" cy="0.5" r="6" fill="#fff" fill-opacity="0.6"/><circle cx="0" cy="0.5" r="4" fill="#000" fill-opacity="0.06"/></g><g transform="translate(688 884.5)" opacity="1"><rect x="-13" y="-9" width="26" height="18.5" rx="2" fill="#000" fill-opacity="0.06"/><circle cx="0" cy="0.5" r="6" fill="#fff" fill-opacity="0.6"/><circle cx="0" cy="0.5" r="4" fill="#000" fill-opacity="0.06"/></g><g transform="translate(1082 884.5)" opacity="1"><rect x="-13" y="-9" width="26" height="18.5" rx="2" fill="#000" fill-opacity="0.06"/><circle cx="0" cy="0.5" r="6" fill="#fff" fill-opacity="0.6"/><circle cx="0" cy="0.5" r="4" fill="#000" fill-opacity="0.06"/></g><g transform="translate(1476 884.5)" opacity="1"><rect x="-13" y="-9" width="26" height="18.5" rx="2" fill="#000" fill-opacity="0.06"/><circle cx="0" cy="0.5" r="6" fill="#fff" fill-opacity="0.6"/><circle cx="0" cy="0.5" r="4" fill="#000" fill-opacity="0.06"/></g><g transform="translate(97 1053.0)" opacity="1"><rect x="-13" y="-9" width="26" height="18.5" rx="2" fill="#000" fill-opacity="0.06"/><circle cx="0" cy="0.5" r="6" fill="#fff" fill-opacity="0.6"/><circle cx="0" cy="0.5" r="4" fill="#000" fill-opacity="0.06"/></g><text x="491" y="1062.0" font-size="33" font-weight="bold" text-anchor="middle" textLength="250" lengthAdjust="spacingAndGlyphs" transform="rotate(-40.5 491 1053.0)" fill="#fff" fill-opacity="0.35" stroke="#000" stroke-opacity="0.045" stroke-width="2.2">depositphotos</text><g transform="translate(885 1053.0)" opacity="1"><rect x="-13" y="-9" width="26" height="18.5" rx="2" fill="#000" fill-opacity="0.06"/><circle cx="0" cy="0.5" r="6" fill="#fff" fill-opacity="0.6"/><circle cx="0" cy="0.5" r="4" fill="#000" fill-opacity="0.06"/></g><text x="1279" y="1062.0" font-size="33" font-weight="bold" text-anchor="middle" textLength="250" lengthAdjust="spacingAndGlyphs" transform="rotate(-40.5 1279 1053.0)" fill="#fff" fill-opacity="0.35" stroke="#000" stroke-opacity="0.045" stroke-width="2.2">depositphotos</text><g transform="translate(1673 1053.0)" opacity="1"><rect x="-13" y="-9" width="26" height="18.5" rx="2" fill="#000" fill-opacity="0.06"/><circle cx="0" cy="0.5" r="6" fill="#fff" fill-opacity="0.6"/><circle cx="0" cy="0.5" r="4" fill="#000" fill-opacity="0.06"/></g><g transform="translate(294 1221.5)" opacity="1"><rect x="-13" y="-9" width="26" height="18.5" rx="2" fill="#000" fill-opacity="0.06"/><circle cx="0" cy="0.5" r="6" fill="#fff" fill-opacity="0.6"/><circle cx="0" cy="0.5" r="4" fill="#000" fill-opacity="0.06"/></g><g transform="translate(688 1221.5)" opacity="1"><rect x="-13" y="-9" width="26" height="18.5" rx="2" fill="#000" fill-opacity="0.06"/><circle cx="0" cy="0.5" r="6" fill="#fff" fill-opacity="0.6"/><circle cx="0" cy="0.5" r="4" fill="#000" fill-opacity="0.06"/></g><g transform="translate(1082 1221.5)" opacity="1"><rect x="-13" y="-9" width="26" height="18.5" rx="2" fill="#000" fill-opacity="0.06"/><circle cx="0" cy="0.5" r="6" fill="#fff" fill-opacity="0.6"/><circle cx="0" cy="0.5" r="4" fill="#000" fill-opacity="0.06"/></g><g transform="translate(1476 1221.5)" opacity="1"><rect x="-13" y="-9" width="26" height="18.5" rx="2" fill="#000" fill-opacity="0.06"/><circle cx="0" cy="0.5" r="6" fill="#fff" fill-opacity="0.6"/><circle cx="0" cy="0.5" r="4" fill="#000" fill-opacity="0.06"/></g><text x="97" y="1399.0" font-size="33" font-weight="bold" text-anchor="middle" textLength="250" lengthAdjust="spacingAndGlyphs" transform="rotate(-40.5 97 1390.0)" fill="#fff" fill-opacity="0.35" stroke="#000" stroke-opacity="0.045" stroke-width="2.2">depositphotos</text><g transform="translate(491 1390.0)" opacity="1"><rect x="-13" y="-9" width="26" height="18.5" rx="2" fill="#000" fill-opacity="0.06"/><circle cx="0" cy="0.5" r="6" fill="#fff" fill-opacity="0.6"/><circle cx="0" cy="0.5" r="4" fill="#000" fill-opacity="0.06"/></g><text x="885" y="1399.0" font-size="33" font-weight="bold" text-anchor="middle" textLength="250" lengthAdjust="spacingAndGlyphs" transform="rotate(-40.5 885 1390.0)" fill="#fff" fill-opacity="0.35" stroke="#000" stroke-opacity="0.045" stroke-width="2.2">depositphotos</text><g transform="translate(1279 1390.0)" opacity="1"><rect x="-13" y="-9" width="26" height="18.5" rx="2" fill="#000" fill-opacity="0.06"/><circle cx="0" cy="0.5" r="6" fill="#fff" fill-opacity="0.6"/><circle cx="0" cy="0.5" r="4" fill="#000" fill-opacity="0.06"/></g><g transform="translate(294 1558.5)" opacity="1"><rect x="-13" y="-9" width="26" height="18.5" rx="2" fill="#000" fill-opacity="0.06"/><circle cx="0" cy="0.5" r="6" fill="#fff" fill-opacity="0.6"/><circle cx="0" cy="0.5" r="4" fill="#000" fill-opacity="0.06"/></g><g transform="translate(688 1558.5)" opacity="1"><rect x="-13" y="-9" width="26" height="18.5" rx="2" fill="#000" fill-opacity="0.06"/><circle cx="0" cy="0.5" r="6" fill="#fff" fill-opacity="0.6"/><circle cx="0" cy="0.5" r="4" fill="#000" fill-opacity="0.06"/></g><g transform="translate(1082 1558.5)" opacity="1"><rect x="-13" y="-9" width="26" height="18.5" rx="2" fill="#000" fill-opacity="0.06"/><circle cx="0" cy="0.5" r="6" fill="#fff" fill-opacity="0.6"/><circle cx="0" cy="0.5" r="4" fill="#000" fill-opacity="0.06"/></g><text x="1494" y="1541" font-size="33" font-weight="bold" text-anchor="middle" textLength="250" lengthAdjust="spacingAndGlyphs" transform="rotate(-40.5 1494 1532)" fill="#fff" fill-opacity="0.35" stroke="#000" stroke-opacity="0.045" stroke-width="2.2">depositphotos</text></g>
<g font-size="42.5" fill="#000" stroke="#000" stroke-width="0.45" text-anchor="middle">
<text x="631.6" y="449.8" textLength="219" lengthAdjust="spacingAndGlyphs">Hematopoietic</text>
<text x="630.4" y="491" textLength="134" lengthAdjust="spacingAndGlyphs">stem cell</text>
<text x="282.4" y="753.5" textLength="138" lengthAdjust="spacingAndGlyphs">Common</text>
<text x="282.6" y="795" textLength="117" lengthAdjust="spacingAndGlyphs">myeloid</text>
<text x="284" y="836.4" textLength="154" lengthAdjust="spacingAndGlyphs">progenitor</text>
<text x="1422.7" y="753.5" textLength="138" lengthAdjust="spacingAndGlyphs">Common</text>
<text x="1422.9" y="795" textLength="135" lengthAdjust="spacingAndGlyphs">lymphoid</text>
<text x="1424.2" y="836.4" textLength="154" lengthAdjust="spacingAndGlyphs">progenitor</text>
<text x="216.6" y="1154.6" textLength="233" lengthAdjust="spacingAndGlyphs">Red blood cells</text>
<text x="467.8" y="1154.6" textLength="164" lengthAdjust="spacingAndGlyphs">Myeloblast</text>
<text x="723" y="1154.6" textLength="132" lengthAdjust="spacingAndGlyphs">Platelets</text>
<text x="1236.8" y="1154.6" textLength="194" lengthAdjust="spacingAndGlyphs">Lymphoblast</text>
<text x="128.4" y="1471.8" textLength="148" lengthAdjust="spacingAndGlyphs">Monocyte</text>
<text x="354.6" y="1471.8" textLength="130" lengthAdjust="spacingAndGlyphs">Basophil</text>
<text x="585.4" y="1471.8" textLength="156" lengthAdjust="spacingAndGlyphs">Eosinophil</text>
<text x="811.8" y="1471.8" textLength="155" lengthAdjust="spacingAndGlyphs">Neutrophil</text>
<text x="985.8" y="1471.8" textLength="85" lengthAdjust="spacingAndGlyphs">B-cell</text>
<text x="1238.1" y="1471.8" textLength="82" lengthAdjust="spacingAndGlyphs">T-cell</text>
<text x="1486.5" y="1471.8" textLength="110" lengthAdjust="spacingAndGlyphs">NK-cell</text>
</g>
</svg>
<svg width="1600" height="100" viewBox="0 1600 1600 100" style="position:absolute;left:0;top:1600px">
<rect x="0" y="1600" width="1600" height="100" fill="#333333"/>
<rect x="0" y="1600" width="1600" height="1" fill="#262626"/>
<circle cx="68" cy="1650" r="28" fill="#fff"/>
<rect x="50.5" y="1637.8" width="42.5" height="29" rx="5" fill="#333"/>
<rect x="62.5" y="1633.5" width="17" height="8" rx="3" fill="#333"/>
<circle cx="71.3" cy="1651.5" r="10.5" fill="none" stroke="#fff" stroke-width="2.6"/>
<path d="M64.5 1655 A7 7 0 0 1 72 1644.5" fill="none" stroke="#fff" stroke-width="1.6"/>
<rect x="85.5" y="1641.8" width="4.4" height="3.4" fill="#fff"/>
<g fill="#fff"><rect x="118.6" y="1630.2" width="6" height="33.7"/><rect x="145.4" y="1641.5" width="6" height="30.1"/><circle cx="210" cy="1633.4" r="3.3"/><rect x="207.1" y="1641.5" width="5.8" height="22.4"/><rect x="221" y="1633.8" width="6" height="30.1"/><rect x="216.5" y="1641.5" width="15" height="5.3"/><rect x="229.7" y="1641.5" width="6" height="30.1"/><rect x="254.1" y="1630.2" width="6" height="33.7"/><rect x="301" y="1633.8" width="6" height="30.1"/><rect x="298" y="1641.5" width="13" height="5.3"/></g><g fill="none" stroke="#fff" stroke-width="6"><circle cx="112.6" cy="1652.7" r="8.3"/><path d="M142.5 1659.5 A8.3 8.3 0 1 1 143 1647"/><path d="M129 1658.5 L143 1647"/><circle cx="157" cy="1652.7" r="8.3"/><circle cx="179.5" cy="1652.7" r="8.3"/><circle cx="241.2" cy="1652.7" r="8.3"/><path d="M257.2 1654 C257.2 1647 261.5 1644.5 265.3 1644.5 C270 1644.5 273.3 1648 273.3 1653.5 L273.3 1663.9"/><circle cx="287" cy="1652.7" r="8.3"/><circle cx="322" cy="1652.7" r="8.3"/></g><g fill="none" stroke="#fff" stroke-width="5.4"><path d="M203.8 1647.2 C202.8 1645 200.8 1644.3 199.0 1644.3 C196.0 1644.3 194.5 1645.8 194.5 1647.8 C194.5 1650.5 197.5 1651.5 199.5 1652.2 C202.0 1653 203.8 1654.3 203.8 1657 C203.8 1659.5 201.5 1661.1 199.0 1661.1 C196.5 1661.1 194.8 1660 194.0 1658.3"/><path d="M345.1 1647.2 C344.1 1645 342.1 1644.3 340.3 1644.3 C337.3 1644.3 335.8 1645.8 335.8 1647.8 C335.8 1650.5 338.8 1651.5 340.8 1652.2 C343.3 1653 345.1 1654.3 345.1 1657 C345.1 1659.5 342.8 1661.1 340.3 1661.1 C337.8 1661.1 336.1 1660 335.3 1658.3"/></g>
<text x="1111" y="1656" font-size="21" fill="#f2f2f2" textLength="194" lengthAdjust="spacingAndGlyphs">Image ID: 487994782</text>
<rect x="1321.5" y="1633.5" width="1" height="34" fill="#5a5a5a"/>
<text x="1343" y="1656" font-size="21" fill="#f2f2f2" textLength="218" lengthAdjust="spacingAndGlyphs">www.depositphotos.com</text>
</svg>
</body></html>
